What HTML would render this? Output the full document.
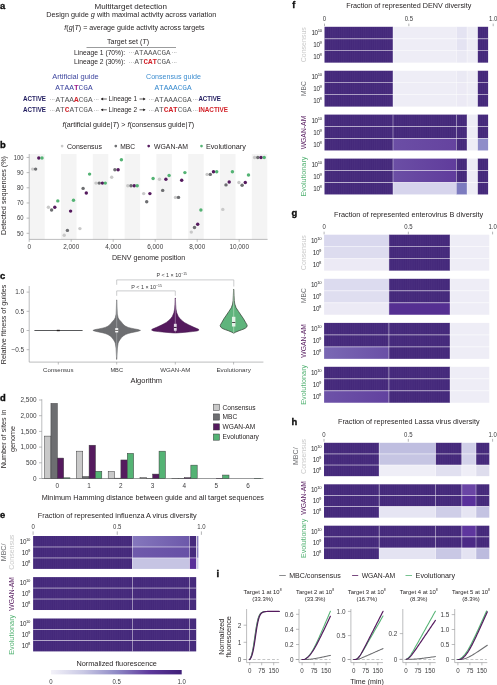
<!DOCTYPE html>
<html lang="en"><head><meta charset="utf-8"><title>Multitarget detection figure</title>
<style>html,body{margin:0;padding:0;background:#fff}body{width:497px;height:685px;overflow:hidden}svg{display:block}text{font-family:"Liberation Sans",sans-serif}</style>
</head><body>
<svg width="497" height="685" viewBox="0 0 497 685" fill="#231f20">
<defs>
<pattern id="st" width="2.2" height="4" patternUnits="userSpaceOnUse"><rect x="0" y="0" width="1.1" height="4" fill="#ffffff" opacity="0.035"/></pattern>
<linearGradient id="e1" x1="0" x2="1" y1="0" y2="0"><stop offset="0" stop-color="#8577bd"/><stop offset="1" stop-color="#6c58aa"/></linearGradient>
<linearGradient id="e2" x1="0" x2="1" y1="0" y2="0"><stop offset="0" stop-color="#6f5aab"/><stop offset="1" stop-color="#6750a6"/></linearGradient>
<linearGradient id="f1" x1="0" x2="1" y1="0" y2="0"><stop offset="0" stop-color="#6b4ea5"/><stop offset="1" stop-color="#65439f"/></linearGradient>
<linearGradient id="f2" x1="0" x2="1" y1="0" y2="0"><stop offset="0" stop-color="#6b4ea5"/><stop offset="1" stop-color="#603c9c"/></linearGradient>
<linearGradient id="g1" x1="0" x2="1" y1="0" y2="0"><stop offset="0" stop-color="#7a68b4"/><stop offset="1" stop-color="#6a50a6"/></linearGradient>
<linearGradient id="g2" x1="0" x2="1" y1="0" y2="0"><stop offset="0" stop-color="#6d52a8"/><stop offset="1" stop-color="#62429f"/></linearGradient>
<linearGradient id="cb" x1="0" x2="1" y1="0" y2="0"><stop offset="0" stop-color="#f3f2f9"/><stop offset="0.25" stop-color="#c9c8e4"/><stop offset="0.5" stop-color="#8f8ac6"/><stop offset="0.75" stop-color="#5f3a9d"/><stop offset="1" stop-color="#3f1f78"/></linearGradient>
</defs>
<rect x="0.00" y="0.00" width="497.00" height="685.00" fill="#ffffff" />
<text x="0.00" y="8.57" font-size="9.4" fill="#0d0d0d" font-weight="bold" stroke="#0d0d0d" stroke-width="0.35">a</text>
<text x="130.80" y="9.08" font-size="7.2" text-anchor="middle" fill="#231f20" textLength="72.50" lengthAdjust="spacingAndGlyphs">Multitarget detection</text>
<text x="131.30" y="16.96" font-size="6.6" text-anchor="middle" fill="#231f20" textLength="170.00" lengthAdjust="spacingAndGlyphs">Design guide <tspan font-style="italic">g</tspan> with maximal activity across variation</text>
<text x="134.50" y="29.56" font-size="6.6" text-anchor="middle" fill="#231f20" textLength="140.30" lengthAdjust="spacingAndGlyphs"><tspan font-style="italic">f</tspan>(<tspan font-style="italic">g</tspan>|<tspan font-style="italic">T</tspan>) = average guide activity across targets</text>
<text x="128.00" y="44.16" font-size="6.6" text-anchor="middle" fill="#231f20" textLength="42.00" lengthAdjust="spacingAndGlyphs">Target set (<tspan font-style="italic">T</tspan>)</text>
<line x1="86.50" y1="47.50" x2="176.00" y2="47.50" stroke="#58595b" stroke-width="0.6" />
<text x="74.00" y="54.66" font-size="6.6" fill="#231f20" textLength="51.20" lengthAdjust="spacingAndGlyphs">Lineage 1 (70%):</text>
<text x="134.50" y="54.79" font-size="7.53" fill="#58595b" style="font-family:'Liberation Mono',monospace">ATAAACGA</text>
<text x="134.00" y="54.20" font-size="6.2" fill="#58595b" text-anchor="end" letter-spacing="-0.25">···</text>
<text x="171.36" y="54.20" font-size="6.2" fill="#58595b" letter-spacing="-0.25">···</text>
<text x="74.00" y="64.26" font-size="6.6" fill="#231f20" textLength="51.20" lengthAdjust="spacingAndGlyphs">Lineage 2 (30%):</text>
<text x="134.50" y="64.39" font-size="7.53" fill="#58595b" style="font-family:'Liberation Mono',monospace">AT<tspan fill="#d2232a" font-weight="bold">CAT</tspan>CGA</text>
<text x="134.00" y="63.80" font-size="6.2" fill="#58595b" text-anchor="end" letter-spacing="-0.25">···</text>
<text x="171.36" y="63.80" font-size="6.2" fill="#58595b" letter-spacing="-0.25">···</text>
<text x="75.50" y="79.23" font-size="6.8" text-anchor="middle" fill="#3f479f" textLength="46.50" lengthAdjust="spacingAndGlyphs">Artificial guide</text>
<text x="55.20" y="89.77" font-size="7.80" fill="#3f479f" style="font-family:'Liberation Mono',monospace">ATAA<tspan fill="#a01f8c" font-weight="bold">T</tspan>CGA</text>
<text x="173.50" y="79.23" font-size="6.8" text-anchor="middle" fill="#3e8ed0" textLength="55.00" lengthAdjust="spacingAndGlyphs">Consensus guide</text>
<text x="154.40" y="89.76" font-size="7.77" fill="#3e8ed0" style="font-family:'Liberation Mono',monospace">ATAAACGA</text>
<text x="23.10" y="101.43" font-size="6.8" fill="#1f1a5e" font-weight="bold" textLength="22.90" lengthAdjust="spacingAndGlyphs">ACTIVE</text>
<text x="55.40" y="101.56" font-size="7.77" fill="#58595b" style="font-family:'Liberation Mono',monospace">ATAA<tspan fill="#d2232a" font-weight="bold">A</tspan>CGA</text>
<text x="54.90" y="100.90" font-size="6.2" fill="#58595b" text-anchor="end" letter-spacing="-0.25">···</text>
<text x="93.38" y="100.90" font-size="6.2" fill="#58595b" letter-spacing="-0.25">···</text>
<text x="122.80" y="101.36" font-size="6.6" text-anchor="middle" fill="#231f20" textLength="28.50" lengthAdjust="spacingAndGlyphs">Lineage 1</text>
<line x1="106.80" y1="99.00" x2="101.20" y2="99.00" stroke="#231f20" stroke-width="0.7" />
<path d="M100.80 99.00 L103.10 97.60 L103.10 100.40 Z" fill="#231f20"/>
<line x1="139.50" y1="99.00" x2="145.10" y2="99.00" stroke="#231f20" stroke-width="0.7" />
<path d="M145.50 99.00 L143.20 97.60 L143.20 100.40 Z" fill="#231f20"/>
<text x="154.40" y="101.56" font-size="7.77" fill="#58595b" style="font-family:'Liberation Mono',monospace">ATAAACGA</text>
<text x="153.90" y="100.90" font-size="6.2" fill="#58595b" text-anchor="end" letter-spacing="-0.25">···</text>
<text x="192.38" y="100.90" font-size="6.2" fill="#58595b" letter-spacing="-0.25">···</text>
<text x="198.40" y="101.43" font-size="6.8" fill="#1f1a5e" font-weight="bold" textLength="22.60" lengthAdjust="spacingAndGlyphs">ACTIVE</text>
<text x="23.10" y="112.23" font-size="6.8" fill="#1f1a5e" font-weight="bold" textLength="22.90" lengthAdjust="spacingAndGlyphs">ACTIVE</text>
<text x="55.40" y="112.36" font-size="7.77" fill="#58595b" style="font-family:'Liberation Mono',monospace">AT<tspan fill="#d2232a" font-weight="bold">C</tspan>ATCGA</text>
<text x="54.90" y="111.70" font-size="6.2" fill="#58595b" text-anchor="end" letter-spacing="-0.25">···</text>
<text x="93.38" y="111.70" font-size="6.2" fill="#58595b" letter-spacing="-0.25">···</text>
<text x="122.80" y="112.16" font-size="6.6" text-anchor="middle" fill="#231f20" textLength="28.50" lengthAdjust="spacingAndGlyphs">Lineage 2</text>
<line x1="106.80" y1="109.80" x2="101.20" y2="109.80" stroke="#231f20" stroke-width="0.7" />
<path d="M100.80 109.80 L103.10 108.40 L103.10 111.20 Z" fill="#231f20"/>
<line x1="139.50" y1="109.80" x2="145.10" y2="109.80" stroke="#231f20" stroke-width="0.7" />
<path d="M145.50 109.80 L143.20 108.40 L143.20 111.20 Z" fill="#231f20"/>
<text x="154.40" y="112.36" font-size="7.77" fill="#58595b" style="font-family:'Liberation Mono',monospace">AT<tspan fill="#d2232a" font-weight="bold">CAT</tspan>CGA</text>
<text x="153.90" y="111.70" font-size="6.2" fill="#58595b" text-anchor="end" letter-spacing="-0.25">···</text>
<text x="192.38" y="111.70" font-size="6.2" fill="#58595b" letter-spacing="-0.25">···</text>
<text x="198.40" y="112.23" font-size="6.8" fill="#d2232a" font-weight="bold" textLength="29.60" lengthAdjust="spacingAndGlyphs">INACTIVE</text>
<text x="128.30" y="127.26" font-size="6.6" text-anchor="middle" fill="#231f20" textLength="131.80" lengthAdjust="spacingAndGlyphs"><tspan font-style="italic">f</tspan>(artificial guide|<tspan font-style="italic">T</tspan>) &gt; <tspan font-style="italic">f</tspan>(consensus guide|<tspan font-style="italic">T</tspan>)</text>
<text x="0.00" y="147.97" font-size="9.4" fill="#0d0d0d" font-weight="bold" stroke="#0d0d0d" stroke-width="0.35">b</text>
<circle cx="62.1" cy="146.1" r="1.35" fill="#c9c9c9"/>
<text x="67.00" y="148.56" font-size="6.6" fill="#231f20" textLength="35.00" lengthAdjust="spacingAndGlyphs">Consensus</text>
<circle cx="115.8" cy="146.1" r="1.35" fill="#6d6e71"/>
<text x="120.20" y="148.56" font-size="6.6" fill="#231f20" textLength="14.80" lengthAdjust="spacingAndGlyphs">MBC</text>
<circle cx="148.7" cy="146.1" r="1.35" fill="#551a5e"/>
<text x="154.00" y="148.56" font-size="6.6" fill="#231f20" textLength="34.00" lengthAdjust="spacingAndGlyphs">WGAN-AM</text>
<circle cx="201.5" cy="146.1" r="1.35" fill="#54b374"/>
<text x="205.90" y="148.56" font-size="6.6" fill="#231f20" textLength="40.00" lengthAdjust="spacingAndGlyphs">Evolutionary</text>
<rect x="29.20" y="154.00" width="15.50" height="85.40" fill="#f4f4f4" />
<rect x="61.00" y="154.00" width="15.50" height="85.40" fill="#f4f4f4" />
<rect x="92.80" y="154.00" width="15.50" height="85.40" fill="#f4f4f4" />
<rect x="124.60" y="154.00" width="15.50" height="85.40" fill="#f4f4f4" />
<rect x="156.40" y="154.00" width="15.50" height="85.40" fill="#f4f4f4" />
<rect x="188.20" y="154.00" width="15.50" height="85.40" fill="#f4f4f4" />
<rect x="220.00" y="154.00" width="15.50" height="85.40" fill="#f4f4f4" />
<rect x="251.80" y="154.00" width="15.50" height="85.40" fill="#f4f4f4" />
<line x1="29.20" y1="154.00" x2="29.20" y2="239.40" stroke="#8e9092" stroke-width="0.6" />
<line x1="26.60" y1="233.30" x2="29.20" y2="233.30" stroke="#8e9092" stroke-width="0.6" />
<text x="23.60" y="235.59" font-size="6.4" text-anchor="end" fill="#3a3a3c" transform="translate(23.60 0) scale(0.92 1) translate(-23.60 0)">50</text>
<line x1="26.60" y1="218.13" x2="29.20" y2="218.13" stroke="#8e9092" stroke-width="0.6" />
<text x="23.60" y="220.42" font-size="6.4" text-anchor="end" fill="#3a3a3c" transform="translate(23.60 0) scale(0.92 1) translate(-23.60 0)">60</text>
<line x1="26.60" y1="202.96" x2="29.20" y2="202.96" stroke="#8e9092" stroke-width="0.6" />
<text x="23.60" y="205.25" font-size="6.4" text-anchor="end" fill="#3a3a3c" transform="translate(23.60 0) scale(0.92 1) translate(-23.60 0)">70</text>
<line x1="26.60" y1="187.79" x2="29.20" y2="187.79" stroke="#8e9092" stroke-width="0.6" />
<text x="23.60" y="190.08" font-size="6.4" text-anchor="end" fill="#3a3a3c" transform="translate(23.60 0) scale(0.92 1) translate(-23.60 0)">80</text>
<line x1="26.60" y1="172.62" x2="29.20" y2="172.62" stroke="#8e9092" stroke-width="0.6" />
<text x="23.60" y="174.91" font-size="6.4" text-anchor="end" fill="#3a3a3c" transform="translate(23.60 0) scale(0.92 1) translate(-23.60 0)">90</text>
<line x1="26.60" y1="157.45" x2="29.20" y2="157.45" stroke="#8e9092" stroke-width="0.6" />
<text x="23.60" y="159.74" font-size="6.4" text-anchor="end" fill="#3a3a3c" transform="translate(23.60 0) scale(0.92 1) translate(-23.60 0)">100</text>
<text transform="translate(4.00 195.50) rotate(-90)" x="0" y="2.36" font-size="6.6" text-anchor="middle" fill="#231f20" textLength="79.00" lengthAdjust="spacingAndGlyphs">Detected sequences (%)</text>
<line x1="29.20" y1="239.40" x2="267.60" y2="239.40" stroke="#8e9092" stroke-width="0.6" />
<line x1="29.20" y1="239.40" x2="29.20" y2="241.80" stroke="#8e9092" stroke-width="0.6" />
<line x1="71.20" y1="239.40" x2="71.20" y2="241.80" stroke="#8e9092" stroke-width="0.6" />
<line x1="113.20" y1="239.40" x2="113.20" y2="241.80" stroke="#8e9092" stroke-width="0.6" />
<line x1="155.20" y1="239.40" x2="155.20" y2="241.80" stroke="#8e9092" stroke-width="0.6" />
<line x1="197.20" y1="239.40" x2="197.20" y2="241.80" stroke="#8e9092" stroke-width="0.6" />
<line x1="239.20" y1="239.40" x2="239.20" y2="241.80" stroke="#8e9092" stroke-width="0.6" />
<text x="29.20" y="248.69" font-size="6.4" text-anchor="middle" fill="#3a3a3c">0</text>
<text x="71.20" y="248.69" font-size="6.4" text-anchor="middle" fill="#3a3a3c">2,000</text>
<text x="113.20" y="248.69" font-size="6.4" text-anchor="middle" fill="#3a3a3c">4,000</text>
<text x="155.20" y="248.69" font-size="6.4" text-anchor="middle" fill="#3a3a3c">6,000</text>
<text x="197.20" y="248.69" font-size="6.4" text-anchor="middle" fill="#3a3a3c">8,000</text>
<text x="239.20" y="248.69" font-size="6.4" text-anchor="middle" fill="#3a3a3c">10,000</text>
<text x="148.60" y="260.16" font-size="6.6" text-anchor="middle" fill="#231f20" textLength="73.20" lengthAdjust="spacingAndGlyphs">DENV genome position</text>
<circle cx="32.7" cy="169.1" r="1.72" fill="#c9c9c9"/>
<circle cx="35.6" cy="169.1" r="1.72" fill="#6d6e71"/>
<circle cx="38.8" cy="158" r="1.72" fill="#551a5e"/>
<circle cx="42" cy="158" r="1.72" fill="#54b374"/>
<circle cx="48.4" cy="207.3" r="1.72" fill="#c9c9c9"/>
<circle cx="51.6" cy="210" r="1.72" fill="#6d6e71"/>
<circle cx="54.8" cy="207.3" r="1.72" fill="#551a5e"/>
<circle cx="57.8" cy="200.9" r="1.72" fill="#54b374"/>
<circle cx="64.2" cy="235.3" r="1.72" fill="#c9c9c9"/>
<circle cx="67.4" cy="230.4" r="1.72" fill="#6d6e71"/>
<circle cx="70.6" cy="211.1" r="1.72" fill="#551a5e"/>
<circle cx="73.5" cy="200.3" r="1.72" fill="#54b374"/>
<circle cx="79.9" cy="228.6" r="1.72" fill="#c9c9c9"/>
<circle cx="83.1" cy="188.4" r="1.72" fill="#6d6e71"/>
<circle cx="86.3" cy="193" r="1.72" fill="#551a5e"/>
<circle cx="89.6" cy="174.1" r="1.72" fill="#54b374"/>
<circle cx="96" cy="183.1" r="1.72" fill="#c9c9c9"/>
<circle cx="99.2" cy="183.1" r="1.72" fill="#6d6e71"/>
<circle cx="102.4" cy="183.1" r="1.72" fill="#551a5e"/>
<circle cx="105.3" cy="183.1" r="1.72" fill="#54b374"/>
<circle cx="111.7" cy="177.3" r="1.72" fill="#c9c9c9"/>
<circle cx="114.9" cy="169.7" r="1.72" fill="#6d6e71"/>
<circle cx="118.1" cy="169.7" r="1.72" fill="#551a5e"/>
<circle cx="121.4" cy="159.8" r="1.72" fill="#54b374"/>
<circle cx="127.8" cy="185.8" r="1.72" fill="#c9c9c9"/>
<circle cx="131" cy="185.8" r="1.72" fill="#6d6e71"/>
<circle cx="134.2" cy="185.8" r="1.72" fill="#551a5e"/>
<circle cx="137.2" cy="185.8" r="1.72" fill="#54b374"/>
<circle cx="143.7" cy="193.6" r="1.72" fill="#c9c9c9"/>
<circle cx="146.7" cy="201.8" r="1.72" fill="#6d6e71"/>
<circle cx="149.9" cy="193.6" r="1.72" fill="#551a5e"/>
<circle cx="153.1" cy="178.5" r="1.72" fill="#54b374"/>
<circle cx="159.5" cy="179.3" r="1.72" fill="#c9c9c9"/>
<circle cx="162.7" cy="190.4" r="1.72" fill="#6d6e71"/>
<circle cx="165.9" cy="179.3" r="1.72" fill="#551a5e"/>
<circle cx="169.1" cy="175.5" r="1.72" fill="#54b374"/>
<circle cx="175.5" cy="197.4" r="1.72" fill="#c9c9c9"/>
<circle cx="178.5" cy="197.4" r="1.72" fill="#6d6e71"/>
<circle cx="181.7" cy="180.2" r="1.72" fill="#551a5e"/>
<circle cx="184.9" cy="172.6" r="1.72" fill="#54b374"/>
<circle cx="191.3" cy="232.1" r="1.72" fill="#c9c9c9"/>
<circle cx="194.5" cy="227.5" r="1.72" fill="#6d6e71"/>
<circle cx="197.7" cy="224.3" r="1.72" fill="#551a5e"/>
<circle cx="200.9" cy="210" r="1.72" fill="#54b374"/>
<circle cx="207.1" cy="174.4" r="1.72" fill="#c9c9c9"/>
<circle cx="210.3" cy="174.4" r="1.72" fill="#6d6e71"/>
<circle cx="213.5" cy="171.8" r="1.72" fill="#551a5e"/>
<circle cx="216.7" cy="171.8" r="1.72" fill="#54b374"/>
<circle cx="222.8" cy="209.4" r="1.72" fill="#c9c9c9"/>
<circle cx="226" cy="184.9" r="1.72" fill="#6d6e71"/>
<circle cx="229.2" cy="182" r="1.72" fill="#551a5e"/>
<circle cx="232.4" cy="171.8" r="1.72" fill="#54b374"/>
<circle cx="238.9" cy="182.5" r="1.72" fill="#c9c9c9"/>
<circle cx="242.1" cy="185.2" r="1.72" fill="#6d6e71"/>
<circle cx="245.3" cy="182.5" r="1.72" fill="#551a5e"/>
<circle cx="248.5" cy="175" r="1.72" fill="#54b374"/>
<circle cx="254.6" cy="157.5" r="1.72" fill="#c9c9c9"/>
<circle cx="257.8" cy="157.5" r="1.72" fill="#6d6e71"/>
<circle cx="261" cy="157.5" r="1.72" fill="#551a5e"/>
<circle cx="264.2" cy="157.5" r="1.72" fill="#54b374"/>
<text x="0.00" y="279.17" font-size="9.4" fill="#0d0d0d" font-weight="bold" stroke="#0d0d0d" stroke-width="0.35">c</text>
<line x1="29.20" y1="286.00" x2="29.20" y2="362.10" stroke="#8e9092" stroke-width="0.6" />
<line x1="29.20" y1="362.10" x2="263.40" y2="362.10" stroke="#8e9092" stroke-width="0.6" />
<line x1="26.60" y1="292.10" x2="29.20" y2="292.10" stroke="#8e9092" stroke-width="0.6" />
<text x="24.10" y="294.39" font-size="6.4" text-anchor="end" fill="#3a3a3c">1.0</text>
<line x1="26.60" y1="311.30" x2="29.20" y2="311.30" stroke="#8e9092" stroke-width="0.6" />
<text x="24.10" y="313.59" font-size="6.4" text-anchor="end" fill="#3a3a3c">0.5</text>
<line x1="26.60" y1="330.50" x2="29.20" y2="330.50" stroke="#8e9092" stroke-width="0.6" />
<text x="24.10" y="332.79" font-size="6.4" text-anchor="end" fill="#3a3a3c">0</text>
<line x1="26.60" y1="349.70" x2="29.20" y2="349.70" stroke="#8e9092" stroke-width="0.6" />
<text x="24.10" y="351.99" font-size="6.4" text-anchor="end" fill="#3a3a3c">−0.5</text>
<text transform="translate(4.00 324.40) rotate(-90)" x="0" y="2.36" font-size="6.6" text-anchor="middle" fill="#231f20" textLength="79.50" lengthAdjust="spacingAndGlyphs">Relative fitness of guides</text>
<line x1="58.30" y1="362.10" x2="58.30" y2="364.50" stroke="#8e9092" stroke-width="0.6" />
<text x="58.30" y="372.32" font-size="6.2" text-anchor="middle" fill="#3a3a3c" textLength="30.40" lengthAdjust="spacingAndGlyphs">Consensus</text>
<line x1="116.70" y1="362.10" x2="116.70" y2="364.50" stroke="#8e9092" stroke-width="0.6" />
<text x="116.70" y="372.32" font-size="6.2" text-anchor="middle" fill="#3a3a3c" textLength="12.60" lengthAdjust="spacingAndGlyphs">MBC</text>
<line x1="175.30" y1="362.10" x2="175.30" y2="364.50" stroke="#8e9092" stroke-width="0.6" />
<text x="175.30" y="372.32" font-size="6.2" text-anchor="middle" fill="#3a3a3c" textLength="30.20" lengthAdjust="spacingAndGlyphs">WGAN-AM</text>
<line x1="233.60" y1="362.10" x2="233.60" y2="364.50" stroke="#8e9092" stroke-width="0.6" />
<text x="233.60" y="372.32" font-size="6.2" text-anchor="middle" fill="#3a3a3c" textLength="34.40" lengthAdjust="spacingAndGlyphs">Evolutionary</text>
<text x="146.30" y="383.46" font-size="6.6" text-anchor="middle" fill="#231f20" textLength="31.70" lengthAdjust="spacingAndGlyphs">Algorithm</text>
<path d="M116.7 284.8 V279.9 H233.8 V286.5" fill="none" stroke="#a7a9ac" stroke-width="0.6"/>
<path d="M116.7 295.8 V290.9 H175.3 V295.8" fill="none" stroke="#a7a9ac" stroke-width="0.6"/>
<text x="171.70" y="277.34" font-size="5.7" text-anchor="middle" fill="#3a3a3c" textLength="30.60" lengthAdjust="spacingAndGlyphs">P &lt; 1 × 10<tspan font-size="3.6" dy="-2.2">−15</tspan></text>
<text x="146.60" y="289.24" font-size="5.7" text-anchor="middle" fill="#3a3a3c" textLength="30.60" lengthAdjust="spacingAndGlyphs">P &lt; 1 × 10<tspan font-size="3.6" dy="-2.2">−15</tspan></text>
<line x1="34.40" y1="330.50" x2="82.60" y2="330.50" stroke="#58595b" stroke-width="1.2" />
<rect x="56.80" y="329.80" width="3.00" height="1.40" fill="#231f20" />
<path d="M116.82 299.90 L117.06 308.10 L117.32 314.10 L118.15 317.80 L119.30 319.80 L120.90 321.40 L122.30 323.20 L123.90 325.00 L125.70 326.30 L128.20 327.40 L131.20 328.20 L134.80 328.90 L138.30 329.60 L140.50 330.40 L138.30 331.20 L134.80 332.00 L131.20 332.70 L128.20 333.50 L125.50 334.60 L123.30 335.90 L121.50 337.60 L120.10 339.50 L119.00 341.20 L118.15 343.10 L117.40 348.00 L117.06 354.00 L116.82 359.40 L116.58 359.40 L116.34 354.00 L116.00 348.00 L115.25 343.10 L114.40 341.20 L113.30 339.50 L111.90 337.60 L110.10 335.90 L107.90 334.60 L105.20 333.50 L102.20 332.70 L98.60 332.00 L95.10 331.20 L92.90 330.40 L95.10 329.60 L98.60 328.90 L102.20 328.20 L105.20 327.40 L107.70 326.30 L109.50 325.00 L111.10 323.20 L112.50 321.40 L114.10 319.80 L115.25 317.80 L116.08 314.10 L116.34 308.10 L116.58 299.90Z" fill="#6d6e71" stroke="#58595b" stroke-width="0.5" stroke-linejoin="round"/>
<line x1="116.70" y1="300.50" x2="116.70" y2="357.50" stroke="#bcbec0" stroke-width="0.5" />
<rect x="115.20" y="328.20" width="3.00" height="4.20" fill="#ffffff" />
<line x1="115.20" y1="330.40" x2="118.20" y2="330.40" stroke="#231f20" stroke-width="0.7" />
<path d="M175.42 298.00 L175.66 304.30 L176.02 309.10 L176.75 312.80 L178.30 316.40 L179.70 318.30 L181.30 320.00 L184.30 322.40 L188.60 324.80 L194.00 327.30 L198.20 329.10 L199.10 329.90 L197.30 330.90 L192.30 331.60 L186.30 332.20 L180.30 332.70 L175.90 333.00 L174.70 333.00 L170.30 332.70 L164.30 332.20 L158.30 331.60 L153.30 330.90 L151.50 329.90 L152.40 329.10 L156.60 327.30 L162.00 324.80 L166.30 322.40 L169.30 320.00 L170.90 318.30 L172.30 316.40 L173.85 312.80 L174.58 309.10 L174.94 304.30 L175.18 298.00Z" fill="#551a5e" stroke="#3d1045" stroke-width="0.5" stroke-linejoin="round"/>
<line x1="175.30" y1="299.00" x2="175.30" y2="332.50" stroke="#c9b8cf" stroke-width="0.5" />
<rect x="173.90" y="323.80" width="2.80" height="6.90" fill="#e4dde8" />
<line x1="173.90" y1="327.40" x2="176.70" y2="327.40" stroke="#2a0d30" stroke-width="1.0" />
<path d="M233.82 289.40 L234.06 295.70 L234.30 300.50 L234.80 304.10 L236.10 307.80 L238.50 311.40 L240.90 315.00 L243.40 318.60 L245.50 322.30 L246.90 324.70 L247.20 325.60 L246.70 327.10 L245.30 328.20 L244.00 328.90 L241.70 329.80 L239.10 330.70 L235.50 332.20 L233.95 333.10 L233.45 333.10 L231.90 332.20 L228.30 330.70 L225.70 329.80 L223.40 328.90 L222.10 328.20 L220.70 327.10 L220.20 325.60 L220.50 324.70 L221.90 322.30 L224.00 318.60 L226.50 315.00 L228.90 311.40 L231.30 307.80 L232.60 304.10 L233.10 300.50 L233.34 295.70 L233.58 289.40Z" fill="#5fb47c" stroke="#30382f" stroke-width="0.7" stroke-linejoin="round"/>
<line x1="233.70" y1="290.00" x2="233.70" y2="333.00" stroke="#d4ecd9" stroke-width="0.5" />
<rect x="232.00" y="316.80" width="3.40" height="9.70" fill="#e3f2e7" />
<line x1="232.10" y1="322.50" x2="235.30" y2="322.50" stroke="#231f20" stroke-width="0.8" />
<text x="0.00" y="401.07" font-size="9.4" fill="#0d0d0d" font-weight="bold" stroke="#0d0d0d" stroke-width="0.35">d</text>
<line x1="41.80" y1="399.20" x2="41.80" y2="478.50" stroke="#8e9092" stroke-width="0.6" />
<line x1="39.00" y1="400.00" x2="41.80" y2="400.00" stroke="#8e9092" stroke-width="0.6" />
<text x="36.60" y="402.29" font-size="6.4" text-anchor="end" fill="#3a3a3c" textLength="16.10" lengthAdjust="spacingAndGlyphs">2,500</text>
<line x1="39.00" y1="415.70" x2="41.80" y2="415.70" stroke="#8e9092" stroke-width="0.6" />
<text x="36.60" y="417.99" font-size="6.4" text-anchor="end" fill="#3a3a3c" textLength="16.10" lengthAdjust="spacingAndGlyphs">2,000</text>
<line x1="39.00" y1="431.40" x2="41.80" y2="431.40" stroke="#8e9092" stroke-width="0.6" />
<text x="36.60" y="433.69" font-size="6.4" text-anchor="end" fill="#3a3a3c" textLength="16.10" lengthAdjust="spacingAndGlyphs">1,500</text>
<line x1="39.00" y1="447.10" x2="41.80" y2="447.10" stroke="#8e9092" stroke-width="0.6" />
<text x="36.60" y="449.39" font-size="6.4" text-anchor="end" fill="#3a3a3c" textLength="16.10" lengthAdjust="spacingAndGlyphs">1,000</text>
<line x1="39.00" y1="462.80" x2="41.80" y2="462.80" stroke="#8e9092" stroke-width="0.6" />
<text x="36.60" y="465.09" font-size="6.4" text-anchor="end" fill="#3a3a3c">500</text>
<line x1="39.00" y1="478.50" x2="41.80" y2="478.50" stroke="#8e9092" stroke-width="0.6" />
<text x="36.60" y="480.79" font-size="6.4" text-anchor="end" fill="#3a3a3c">0</text>
<text transform="translate(3.40 439.00) rotate(-90)" x="0" y="2.36" font-size="6.6" text-anchor="middle" fill="#231f20" textLength="58.50" lengthAdjust="spacingAndGlyphs">Number of sites in</text>
<text transform="translate(12.40 439.00) rotate(-90)" x="0" y="2.36" font-size="6.6" text-anchor="middle" fill="#231f20" textLength="26.00" lengthAdjust="spacingAndGlyphs">genome</text>
<line x1="41.80" y1="478.50" x2="263.40" y2="478.50" stroke="#58595b" stroke-width="0.6" />
<rect x="44.60" y="436.11" width="6.35" height="42.39" fill="#c9c9c9" stroke="#3a3a3c" stroke-width="0.5" />
<rect x="50.95" y="403.45" width="6.35" height="75.05" fill="#6d6e71" stroke="#3a3a3c" stroke-width="0.5" />
<rect x="57.30" y="458.09" width="6.35" height="20.41" fill="#551a5e" stroke="#3a3a3c" stroke-width="0.5" />
<rect x="63.65" y="477.81" width="6.35" height="0.69" fill="#54b374" stroke="#3a3a3c" stroke-width="0.5" />
<rect x="76.40" y="451.18" width="6.35" height="27.32" fill="#c9c9c9" stroke="#3a3a3c" stroke-width="0.5" />
<rect x="82.75" y="476.62" width="6.35" height="1.88" fill="#6d6e71" stroke="#3a3a3c" stroke-width="0.5" />
<rect x="89.10" y="445.22" width="6.35" height="33.28" fill="#551a5e" stroke="#3a3a3c" stroke-width="0.5" />
<rect x="95.45" y="471.28" width="6.35" height="7.22" fill="#54b374" stroke="#3a3a3c" stroke-width="0.5" />
<rect x="108.20" y="471.59" width="6.35" height="6.91" fill="#c9c9c9" stroke="#3a3a3c" stroke-width="0.5" />
<rect x="114.55" y="478.19" width="6.35" height="0.31" fill="#6d6e71" stroke="#3a3a3c" stroke-width="0.5" />
<rect x="120.90" y="459.97" width="6.35" height="18.53" fill="#551a5e" stroke="#3a3a3c" stroke-width="0.5" />
<rect x="127.25" y="453.38" width="6.35" height="25.12" fill="#54b374" stroke="#3a3a3c" stroke-width="0.5" />
<rect x="140.00" y="477.56" width="6.35" height="0.94" fill="#c9c9c9" stroke="#3a3a3c" stroke-width="0.5" />
<rect x="146.35" y="478.37" width="6.35" height="0.13" fill="#6d6e71" stroke="#3a3a3c" stroke-width="0.5" />
<rect x="152.70" y="474.10" width="6.35" height="4.40" fill="#551a5e" stroke="#3a3a3c" stroke-width="0.5" />
<rect x="159.05" y="451.18" width="6.35" height="27.32" fill="#54b374" stroke="#3a3a3c" stroke-width="0.5" />
<rect x="171.80" y="478.37" width="6.35" height="0.13" fill="#c9c9c9" stroke="#3a3a3c" stroke-width="0.5" />
<rect x="178.15" y="478.37" width="6.35" height="0.13" fill="#6d6e71" stroke="#3a3a3c" stroke-width="0.5" />
<rect x="184.50" y="477.71" width="6.35" height="0.78" fill="#551a5e" stroke="#3a3a3c" stroke-width="0.5" />
<rect x="190.85" y="465.15" width="6.35" height="13.34" fill="#54b374" stroke="#3a3a3c" stroke-width="0.5" />
<rect x="216.30" y="478.31" width="6.35" height="0.19" fill="#551a5e" stroke="#3a3a3c" stroke-width="0.5" />
<rect x="222.65" y="475.05" width="6.35" height="3.45" fill="#54b374" stroke="#3a3a3c" stroke-width="0.5" />
<rect x="254.45" y="478.31" width="6.35" height="0.19" fill="#54b374" stroke="#3a3a3c" stroke-width="0.5" />
<text x="57.20" y="488.39" font-size="6.4" text-anchor="middle" fill="#3a3a3c">0</text>
<text x="89.00" y="488.39" font-size="6.4" text-anchor="middle" fill="#3a3a3c">1</text>
<text x="120.80" y="488.39" font-size="6.4" text-anchor="middle" fill="#3a3a3c">2</text>
<text x="152.60" y="488.39" font-size="6.4" text-anchor="middle" fill="#3a3a3c">3</text>
<text x="184.40" y="488.39" font-size="6.4" text-anchor="middle" fill="#3a3a3c">4</text>
<text x="216.20" y="488.39" font-size="6.4" text-anchor="middle" fill="#3a3a3c">5</text>
<text x="248.00" y="488.39" font-size="6.4" text-anchor="middle" fill="#3a3a3c">6</text>
<text x="152.80" y="500.06" font-size="6.6" text-anchor="middle" fill="#231f20" textLength="222.20" lengthAdjust="spacingAndGlyphs">Minimum Hamming distance between guide and all target sequences</text>
<rect x="213.30" y="404.20" width="6.20" height="6.20" fill="#c9c9c9" stroke="#3a3a3c" stroke-width="0.5" />
<text x="222.60" y="409.66" font-size="6.6" fill="#231f20">Consensus</text>
<rect x="213.30" y="413.90" width="6.20" height="6.20" fill="#6d6e71" stroke="#3a3a3c" stroke-width="0.5" />
<text x="222.60" y="419.36" font-size="6.6" fill="#231f20">MBC</text>
<rect x="213.30" y="423.80" width="6.20" height="6.20" fill="#551a5e" stroke="#3a3a3c" stroke-width="0.5" />
<text x="222.60" y="429.26" font-size="6.6" fill="#231f20">WGAN-AM</text>
<rect x="213.30" y="434.00" width="6.20" height="6.20" fill="#54b374" stroke="#3a3a3c" stroke-width="0.5" />
<text x="222.60" y="439.46" font-size="6.6" fill="#231f20">Evolutionary</text>
<text x="0.00" y="517.67" font-size="9.4" fill="#0d0d0d" font-weight="bold" stroke="#0d0d0d" stroke-width="0.35">e</text>
<text x="117.30" y="517.67" font-size="6.9" text-anchor="middle" fill="#231f20" textLength="158.90" lengthAdjust="spacingAndGlyphs">Fraction of represented influenza A virus diversity</text>
<line x1="33.10" y1="531.40" x2="33.10" y2="534.80" stroke="#808285" stroke-width="0.6" />
<text x="33.10" y="528.89" font-size="6.4" text-anchor="middle" fill="#3a3a3c" transform="translate(33.10 0) scale(0.94 1) translate(-33.10 0)">0</text>
<line x1="117.25" y1="531.40" x2="117.25" y2="534.80" stroke="#808285" stroke-width="0.6" />
<text x="117.25" y="528.89" font-size="6.4" text-anchor="middle" fill="#3a3a3c" transform="translate(117.25 0) scale(0.94 1) translate(-117.25 0)">0.5</text>
<line x1="201.40" y1="531.40" x2="201.40" y2="534.80" stroke="#808285" stroke-width="0.6" />
<text x="201.40" y="528.89" font-size="6.4" text-anchor="middle" fill="#3a3a3c" transform="translate(201.40 0) scale(0.94 1) translate(-201.40 0)">1.0</text>
<rect x="33.10" y="536.00" width="99.20" height="10.97" fill="#43277a" />
<rect x="33.10" y="536.00" width="99.20" height="10.97" fill="url(#st)" />
<rect x="132.30" y="536.00" width="57.40" height="10.97" fill="url(#e1)" />
<rect x="189.70" y="536.00" width="6.50" height="10.97" fill="#43277a" />
<rect x="189.70" y="536.00" width="6.50" height="10.97" fill="url(#st)" />
<rect x="33.10" y="546.97" width="99.20" height="10.97" fill="#43277a" />
<rect x="33.10" y="546.97" width="99.20" height="10.97" fill="url(#st)" />
<rect x="132.30" y="546.97" width="57.40" height="10.97" fill="url(#e2)" />
<rect x="189.70" y="546.97" width="6.50" height="10.97" fill="#43277a" />
<rect x="189.70" y="546.97" width="6.50" height="10.97" fill="url(#st)" />
<rect x="33.10" y="557.94" width="99.20" height="10.97" fill="#43277a" />
<rect x="33.10" y="557.94" width="99.20" height="10.97" fill="url(#st)" />
<rect x="132.30" y="557.94" width="57.40" height="10.97" fill="#c6c4e3" />
<rect x="189.70" y="557.94" width="6.50" height="10.97" fill="#5a2f99" />
<line x1="33.10" y1="546.97" x2="196.20" y2="546.97" stroke="#ffffff" stroke-width="0.6" opacity="0.85"/>
<line x1="33.10" y1="557.94" x2="196.20" y2="557.94" stroke="#ffffff" stroke-width="0.6" opacity="0.85"/>
<line x1="132.30" y1="536.00" x2="132.30" y2="568.91" stroke="#ffffff" stroke-width="0.5" opacity="0.8"/>
<line x1="189.70" y1="536.00" x2="189.70" y2="568.91" stroke="#ffffff" stroke-width="0.5" opacity="0.8"/>
<rect x="197.00" y="536.00" width="1.40" height="21.94" fill="#8f84c4" />
<rect x="197.00" y="557.94" width="1.40" height="10.97" fill="#cfcde8" />
<line x1="197.10" y1="546.97" x2="198.60" y2="546.97" stroke="#fff" stroke-width="0.55" opacity="0.7"/>
<line x1="197.10" y1="557.94" x2="198.60" y2="557.94" stroke="#fff" stroke-width="0.55" opacity="0.7"/>
<rect x="33.10" y="577.10" width="99.20" height="10.97" fill="#43277a" />
<rect x="33.10" y="577.10" width="99.20" height="10.97" fill="url(#st)" />
<rect x="132.30" y="577.10" width="57.40" height="10.97" fill="#43277a" />
<rect x="132.30" y="577.10" width="57.40" height="10.97" fill="url(#st)" />
<rect x="189.70" y="577.10" width="6.50" height="10.97" fill="#43277a" />
<rect x="189.70" y="577.10" width="6.50" height="10.97" fill="url(#st)" />
<rect x="33.10" y="588.07" width="99.20" height="10.97" fill="#43277a" />
<rect x="33.10" y="588.07" width="99.20" height="10.97" fill="url(#st)" />
<rect x="132.30" y="588.07" width="57.40" height="10.97" fill="#43277a" />
<rect x="132.30" y="588.07" width="57.40" height="10.97" fill="url(#st)" />
<rect x="189.70" y="588.07" width="6.50" height="10.97" fill="#43277a" />
<rect x="189.70" y="588.07" width="6.50" height="10.97" fill="url(#st)" />
<rect x="33.10" y="599.04" width="99.20" height="10.97" fill="#43277a" />
<rect x="33.10" y="599.04" width="99.20" height="10.97" fill="url(#st)" />
<rect x="132.30" y="599.04" width="57.40" height="10.97" fill="#43277a" />
<rect x="132.30" y="599.04" width="57.40" height="10.97" fill="url(#st)" />
<rect x="189.70" y="599.04" width="6.50" height="10.97" fill="#43277a" />
<rect x="189.70" y="599.04" width="6.50" height="10.97" fill="url(#st)" />
<line x1="33.10" y1="588.07" x2="196.20" y2="588.07" stroke="#ffffff" stroke-width="0.6" opacity="0.85"/>
<line x1="33.10" y1="599.04" x2="196.20" y2="599.04" stroke="#ffffff" stroke-width="0.6" opacity="0.85"/>
<line x1="132.30" y1="577.10" x2="132.30" y2="610.01" stroke="#ffffff" stroke-width="0.5" opacity="0.8"/>
<line x1="189.70" y1="577.10" x2="189.70" y2="610.01" stroke="#ffffff" stroke-width="0.5" opacity="0.8"/>
<rect x="33.10" y="618.50" width="99.20" height="10.97" fill="#43277a" />
<rect x="33.10" y="618.50" width="99.20" height="10.97" fill="url(#st)" />
<rect x="132.30" y="618.50" width="57.40" height="10.97" fill="#43277a" />
<rect x="132.30" y="618.50" width="57.40" height="10.97" fill="url(#st)" />
<rect x="189.70" y="618.50" width="6.50" height="10.97" fill="#43277a" />
<rect x="189.70" y="618.50" width="6.50" height="10.97" fill="url(#st)" />
<rect x="33.10" y="629.47" width="99.20" height="10.97" fill="#43277a" />
<rect x="33.10" y="629.47" width="99.20" height="10.97" fill="url(#st)" />
<rect x="132.30" y="629.47" width="57.40" height="10.97" fill="#43277a" />
<rect x="132.30" y="629.47" width="57.40" height="10.97" fill="url(#st)" />
<rect x="189.70" y="629.47" width="6.50" height="10.97" fill="#43277a" />
<rect x="189.70" y="629.47" width="6.50" height="10.97" fill="url(#st)" />
<rect x="33.10" y="640.44" width="99.20" height="10.97" fill="#43277a" />
<rect x="33.10" y="640.44" width="99.20" height="10.97" fill="url(#st)" />
<rect x="132.30" y="640.44" width="57.40" height="10.97" fill="#43277a" />
<rect x="132.30" y="640.44" width="57.40" height="10.97" fill="url(#st)" />
<rect x="189.70" y="640.44" width="6.50" height="10.97" fill="#43277a" />
<rect x="189.70" y="640.44" width="6.50" height="10.97" fill="url(#st)" />
<line x1="33.10" y1="629.47" x2="196.20" y2="629.47" stroke="#ffffff" stroke-width="0.6" opacity="0.85"/>
<line x1="33.10" y1="640.44" x2="196.20" y2="640.44" stroke="#ffffff" stroke-width="0.6" opacity="0.85"/>
<line x1="132.30" y1="618.50" x2="132.30" y2="651.41" stroke="#ffffff" stroke-width="0.5" opacity="0.8"/>
<line x1="189.70" y1="618.50" x2="189.70" y2="651.41" stroke="#ffffff" stroke-width="0.5" opacity="0.8"/>
<text x="26.20" y="543.74" font-size="6.3" text-anchor="end" letter-spacing="-0.3" fill="#2e2e30">10</text>
<text x="26.10" y="540.78" font-size="4.2" letter-spacing="-0.3" fill="#2e2e30">10</text>
<text x="28.10" y="554.71" font-size="6.3" text-anchor="end" letter-spacing="-0.3" fill="#2e2e30">10</text>
<text x="28.00" y="551.75" font-size="4.2" letter-spacing="-0.3" fill="#2e2e30">9</text>
<text x="28.10" y="565.67" font-size="6.3" text-anchor="end" letter-spacing="-0.3" fill="#2e2e30">10</text>
<text x="28.00" y="562.72" font-size="4.2" letter-spacing="-0.3" fill="#2e2e30">8</text>
<text x="26.20" y="584.84" font-size="6.3" text-anchor="end" letter-spacing="-0.3" fill="#2e2e30">10</text>
<text x="26.10" y="581.88" font-size="4.2" letter-spacing="-0.3" fill="#2e2e30">10</text>
<text x="28.10" y="595.81" font-size="6.3" text-anchor="end" letter-spacing="-0.3" fill="#2e2e30">10</text>
<text x="28.00" y="592.86" font-size="4.2" letter-spacing="-0.3" fill="#2e2e30">9</text>
<text x="28.10" y="606.77" font-size="6.3" text-anchor="end" letter-spacing="-0.3" fill="#2e2e30">10</text>
<text x="28.00" y="603.82" font-size="4.2" letter-spacing="-0.3" fill="#2e2e30">8</text>
<text x="26.20" y="626.24" font-size="6.3" text-anchor="end" letter-spacing="-0.3" fill="#2e2e30">10</text>
<text x="26.10" y="623.28" font-size="4.2" letter-spacing="-0.3" fill="#2e2e30">10</text>
<text x="28.10" y="637.21" font-size="6.3" text-anchor="end" letter-spacing="-0.3" fill="#2e2e30">10</text>
<text x="28.00" y="634.25" font-size="4.2" letter-spacing="-0.3" fill="#2e2e30">9</text>
<text x="28.10" y="648.17" font-size="6.3" text-anchor="end" letter-spacing="-0.3" fill="#2e2e30">10</text>
<text x="28.00" y="645.22" font-size="4.2" letter-spacing="-0.3" fill="#2e2e30">8</text>
<text transform="translate(3.90 552.40) rotate(-90)" x="0" y="2.36" font-size="6.6" text-anchor="middle" fill="#6d6e71" textLength="17.60" lengthAdjust="spacingAndGlyphs">MBC/</text>
<text transform="translate(11.80 552.20) rotate(-90)" x="0" y="2.36" font-size="6.6" text-anchor="middle" fill="#c9c9c9" textLength="35.00" lengthAdjust="spacingAndGlyphs">Consensus</text>
<text transform="translate(11.80 593.80) rotate(-90)" x="0" y="2.36" font-size="6.6" text-anchor="middle" fill="#551a5e" textLength="33.70" lengthAdjust="spacingAndGlyphs">WGAN-AM</text>
<text transform="translate(11.80 634.80) rotate(-90)" x="0" y="2.36" font-size="6.6" text-anchor="middle" fill="#54b374" textLength="40.00" lengthAdjust="spacingAndGlyphs">Evolutionary</text>
<text x="116.70" y="665.77" font-size="6.9" text-anchor="middle" fill="#231f20" textLength="80.50" lengthAdjust="spacingAndGlyphs">Normalized fluorescence</text>
<rect x="51.00" y="670.00" width="130.70" height="4.40" fill="url(#cb)" />
<text x="51.00" y="684.09" font-size="6.4" text-anchor="middle" fill="#3a3a3c" transform="translate(51.00 0) scale(0.94 1) translate(-51.00 0)">0</text>
<text x="116.70" y="684.09" font-size="6.4" text-anchor="middle" fill="#3a3a3c" transform="translate(116.70 0) scale(0.94 1) translate(-116.70 0)">0.5</text>
<text x="181.70" y="684.09" font-size="6.4" text-anchor="middle" fill="#3a3a3c" transform="translate(181.70 0) scale(0.94 1) translate(-181.70 0)">1.0</text>
<text x="292.3" y="8.2" font-size="9" font-weight="bold" fill="#0d0d0d" stroke="#0d0d0d" stroke-width="0.35">f</text>
<text x="408.80" y="8.46" font-size="6.6" text-anchor="middle" fill="#231f20" textLength="125.00" lengthAdjust="spacingAndGlyphs">Fraction of represented DENV diversity</text>
<line x1="324.50" y1="23.60" x2="324.50" y2="26.20" stroke="#808285" stroke-width="0.6" />
<text x="324.50" y="20.89" font-size="6.4" text-anchor="middle" fill="#3a3a3c" transform="translate(324.50 0) scale(0.94 1) translate(-324.50 0)">0</text>
<line x1="408.85" y1="23.60" x2="408.85" y2="26.20" stroke="#808285" stroke-width="0.6" />
<text x="408.85" y="20.89" font-size="6.4" text-anchor="middle" fill="#3a3a3c" transform="translate(408.85 0) scale(0.94 1) translate(-408.85 0)">0.5</text>
<line x1="493.20" y1="23.60" x2="493.20" y2="26.20" stroke="#808285" stroke-width="0.6" />
<text x="493.20" y="20.89" font-size="6.4" text-anchor="middle" fill="#3a3a3c" transform="translate(493.20 0) scale(0.94 1) translate(-493.20 0)">1.0</text>
<rect x="324.50" y="26.80" width="68.50" height="11.95" fill="#43277a" />
<rect x="324.50" y="26.80" width="68.50" height="11.95" fill="url(#st)" />
<rect x="393.00" y="26.80" width="63.30" height="11.95" fill="#eeedf6" />
<rect x="456.30" y="26.80" width="10.80" height="11.95" fill="#e4e3f2" />
<rect x="467.10" y="26.80" width="10.60" height="11.95" fill="#eeedf6" />
<rect x="477.70" y="26.80" width="10.40" height="11.95" fill="#43277a" />
<rect x="477.70" y="26.80" width="10.40" height="11.95" fill="url(#st)" />
<rect x="324.50" y="38.75" width="68.50" height="11.95" fill="#43277a" />
<rect x="324.50" y="38.75" width="68.50" height="11.95" fill="url(#st)" />
<rect x="393.00" y="38.75" width="63.30" height="11.95" fill="#eeedf6" />
<rect x="456.30" y="38.75" width="10.80" height="11.95" fill="#e4e3f2" />
<rect x="467.10" y="38.75" width="10.60" height="11.95" fill="#eeedf6" />
<rect x="477.70" y="38.75" width="10.40" height="11.95" fill="#43277a" />
<rect x="477.70" y="38.75" width="10.40" height="11.95" fill="url(#st)" />
<rect x="324.50" y="50.70" width="68.50" height="11.95" fill="#43277a" />
<rect x="324.50" y="50.70" width="68.50" height="11.95" fill="url(#st)" />
<rect x="393.00" y="50.70" width="63.30" height="11.95" fill="#eeedf6" />
<rect x="456.30" y="50.70" width="10.80" height="11.95" fill="#eae9f4" />
<rect x="467.10" y="50.70" width="10.60" height="11.95" fill="#eeedf6" />
<rect x="477.70" y="50.70" width="10.40" height="11.95" fill="#43277a" />
<rect x="477.70" y="50.70" width="10.40" height="11.95" fill="url(#st)" />
<line x1="324.50" y1="38.75" x2="488.10" y2="38.75" stroke="#ffffff" stroke-width="0.6" opacity="0.85"/>
<line x1="324.50" y1="50.70" x2="488.10" y2="50.70" stroke="#ffffff" stroke-width="0.6" opacity="0.85"/>
<line x1="393.00" y1="26.80" x2="393.00" y2="62.65" stroke="#ffffff" stroke-width="0.5" opacity="0.8"/>
<line x1="456.30" y1="26.80" x2="456.30" y2="62.65" stroke="#ffffff" stroke-width="0.5" opacity="0.8"/>
<line x1="467.10" y1="26.80" x2="467.10" y2="62.65" stroke="#ffffff" stroke-width="0.5" opacity="0.8"/>
<line x1="477.70" y1="26.80" x2="477.70" y2="62.65" stroke="#ffffff" stroke-width="0.5" opacity="0.8"/>
<rect x="324.50" y="70.75" width="68.50" height="11.95" fill="#43277a" />
<rect x="324.50" y="70.75" width="68.50" height="11.95" fill="url(#st)" />
<rect x="393.00" y="70.75" width="63.30" height="11.95" fill="#eeedf6" />
<rect x="456.30" y="70.75" width="10.80" height="11.95" fill="#eae9f4" />
<rect x="467.10" y="70.75" width="10.60" height="11.95" fill="#eeedf6" />
<rect x="477.70" y="70.75" width="10.40" height="11.95" fill="#43277a" />
<rect x="477.70" y="70.75" width="10.40" height="11.95" fill="url(#st)" />
<rect x="324.50" y="82.70" width="68.50" height="11.95" fill="#43277a" />
<rect x="324.50" y="82.70" width="68.50" height="11.95" fill="url(#st)" />
<rect x="393.00" y="82.70" width="63.30" height="11.95" fill="#eeedf6" />
<rect x="456.30" y="82.70" width="10.80" height="11.95" fill="#eceaf5" />
<rect x="467.10" y="82.70" width="10.60" height="11.95" fill="#eeedf6" />
<rect x="477.70" y="82.70" width="10.40" height="11.95" fill="#43277a" />
<rect x="477.70" y="82.70" width="10.40" height="11.95" fill="url(#st)" />
<rect x="324.50" y="94.65" width="68.50" height="11.95" fill="#43277a" />
<rect x="324.50" y="94.65" width="68.50" height="11.95" fill="url(#st)" />
<rect x="393.00" y="94.65" width="63.30" height="11.95" fill="#eeedf6" />
<rect x="456.30" y="94.65" width="10.80" height="11.95" fill="#eceaf5" />
<rect x="467.10" y="94.65" width="10.60" height="11.95" fill="#eeedf6" />
<rect x="477.70" y="94.65" width="10.40" height="11.95" fill="#43277a" />
<rect x="477.70" y="94.65" width="10.40" height="11.95" fill="url(#st)" />
<line x1="324.50" y1="82.70" x2="488.10" y2="82.70" stroke="#ffffff" stroke-width="0.6" opacity="0.85"/>
<line x1="324.50" y1="94.65" x2="488.10" y2="94.65" stroke="#ffffff" stroke-width="0.6" opacity="0.85"/>
<line x1="393.00" y1="70.75" x2="393.00" y2="106.60" stroke="#ffffff" stroke-width="0.5" opacity="0.8"/>
<line x1="456.30" y1="70.75" x2="456.30" y2="106.60" stroke="#ffffff" stroke-width="0.5" opacity="0.8"/>
<line x1="467.10" y1="70.75" x2="467.10" y2="106.60" stroke="#ffffff" stroke-width="0.5" opacity="0.8"/>
<line x1="477.70" y1="70.75" x2="477.70" y2="106.60" stroke="#ffffff" stroke-width="0.5" opacity="0.8"/>
<rect x="324.50" y="114.60" width="68.50" height="11.95" fill="#43277a" />
<rect x="324.50" y="114.60" width="68.50" height="11.95" fill="url(#st)" />
<rect x="393.00" y="114.60" width="63.30" height="11.95" fill="#43277a" />
<rect x="393.00" y="114.60" width="63.30" height="11.95" fill="url(#st)" />
<rect x="456.30" y="114.60" width="10.80" height="11.95" fill="#43277a" />
<rect x="456.30" y="114.60" width="10.80" height="11.95" fill="url(#st)" />
<rect x="467.10" y="114.60" width="10.60" height="11.95" fill="#eeedf6" />
<rect x="477.70" y="114.60" width="10.40" height="11.95" fill="#43277a" />
<rect x="477.70" y="114.60" width="10.40" height="11.95" fill="url(#st)" />
<rect x="324.50" y="126.55" width="68.50" height="11.95" fill="#43277a" />
<rect x="324.50" y="126.55" width="68.50" height="11.95" fill="url(#st)" />
<rect x="393.00" y="126.55" width="63.30" height="11.95" fill="#43277a" />
<rect x="393.00" y="126.55" width="63.30" height="11.95" fill="url(#st)" />
<rect x="456.30" y="126.55" width="10.80" height="11.95" fill="#43277a" />
<rect x="456.30" y="126.55" width="10.80" height="11.95" fill="url(#st)" />
<rect x="467.10" y="126.55" width="10.60" height="11.95" fill="#eeedf6" />
<rect x="477.70" y="126.55" width="10.40" height="11.95" fill="#43277a" />
<rect x="477.70" y="126.55" width="10.40" height="11.95" fill="url(#st)" />
<rect x="324.50" y="138.50" width="68.50" height="11.95" fill="#43277a" />
<rect x="324.50" y="138.50" width="68.50" height="11.95" fill="url(#st)" />
<rect x="393.00" y="138.50" width="63.30" height="11.95" fill="url(#f1)" />
<rect x="456.30" y="138.50" width="10.80" height="11.95" fill="#43277a" />
<rect x="456.30" y="138.50" width="10.80" height="11.95" fill="url(#st)" />
<rect x="467.10" y="138.50" width="10.60" height="11.95" fill="#eeedf6" />
<rect x="477.70" y="138.50" width="10.40" height="11.95" fill="#8f8dc9" />
<line x1="324.50" y1="126.55" x2="488.10" y2="126.55" stroke="#ffffff" stroke-width="0.6" opacity="0.85"/>
<line x1="324.50" y1="138.50" x2="488.10" y2="138.50" stroke="#ffffff" stroke-width="0.6" opacity="0.85"/>
<line x1="393.00" y1="114.60" x2="393.00" y2="150.45" stroke="#ffffff" stroke-width="0.5" opacity="0.8"/>
<line x1="456.30" y1="114.60" x2="456.30" y2="150.45" stroke="#ffffff" stroke-width="0.5" opacity="0.8"/>
<line x1="467.10" y1="114.60" x2="467.10" y2="150.45" stroke="#ffffff" stroke-width="0.5" opacity="0.8"/>
<line x1="477.70" y1="114.60" x2="477.70" y2="150.45" stroke="#ffffff" stroke-width="0.5" opacity="0.8"/>
<rect x="324.50" y="158.60" width="68.50" height="11.95" fill="#43277a" />
<rect x="324.50" y="158.60" width="68.50" height="11.95" fill="url(#st)" />
<rect x="393.00" y="158.60" width="63.30" height="11.95" fill="url(#f2)" />
<rect x="456.30" y="158.60" width="10.80" height="11.95" fill="#43277a" />
<rect x="456.30" y="158.60" width="10.80" height="11.95" fill="url(#st)" />
<rect x="467.10" y="158.60" width="10.60" height="11.95" fill="#eeedf6" />
<rect x="477.70" y="158.60" width="10.40" height="11.95" fill="#43277a" />
<rect x="477.70" y="158.60" width="10.40" height="11.95" fill="url(#st)" />
<rect x="324.50" y="170.55" width="68.50" height="11.95" fill="#43277a" />
<rect x="324.50" y="170.55" width="68.50" height="11.95" fill="url(#st)" />
<rect x="393.00" y="170.55" width="63.30" height="11.95" fill="url(#f2)" />
<rect x="456.30" y="170.55" width="10.80" height="11.95" fill="#43277a" />
<rect x="456.30" y="170.55" width="10.80" height="11.95" fill="url(#st)" />
<rect x="467.10" y="170.55" width="10.60" height="11.95" fill="#eeedf6" />
<rect x="477.70" y="170.55" width="10.40" height="11.95" fill="#43277a" />
<rect x="477.70" y="170.55" width="10.40" height="11.95" fill="url(#st)" />
<rect x="324.50" y="182.50" width="68.50" height="11.95" fill="#43277a" />
<rect x="324.50" y="182.50" width="68.50" height="11.95" fill="url(#st)" />
<rect x="393.00" y="182.50" width="63.30" height="11.95" fill="#d6d4ec" />
<rect x="456.30" y="182.50" width="10.80" height="11.95" fill="#7c7bbf" />
<rect x="467.10" y="182.50" width="10.60" height="11.95" fill="#eeedf6" />
<rect x="477.70" y="182.50" width="10.40" height="11.95" fill="#43277a" />
<rect x="477.70" y="182.50" width="10.40" height="11.95" fill="url(#st)" />
<line x1="324.50" y1="170.55" x2="488.10" y2="170.55" stroke="#ffffff" stroke-width="0.6" opacity="0.85"/>
<line x1="324.50" y1="182.50" x2="488.10" y2="182.50" stroke="#ffffff" stroke-width="0.6" opacity="0.85"/>
<line x1="393.00" y1="158.60" x2="393.00" y2="194.45" stroke="#ffffff" stroke-width="0.5" opacity="0.8"/>
<line x1="456.30" y1="158.60" x2="456.30" y2="194.45" stroke="#ffffff" stroke-width="0.5" opacity="0.8"/>
<line x1="467.10" y1="158.60" x2="467.10" y2="194.45" stroke="#ffffff" stroke-width="0.5" opacity="0.8"/>
<line x1="477.70" y1="158.60" x2="477.70" y2="194.45" stroke="#ffffff" stroke-width="0.5" opacity="0.8"/>
<text x="317.80" y="35.02" font-size="6.3" text-anchor="end" letter-spacing="-0.3" fill="#2e2e30">10</text>
<text x="317.70" y="32.07" font-size="4.2" letter-spacing="-0.3" fill="#2e2e30">10</text>
<text x="319.70" y="46.97" font-size="6.3" text-anchor="end" letter-spacing="-0.3" fill="#2e2e30">10</text>
<text x="319.60" y="44.02" font-size="4.2" letter-spacing="-0.3" fill="#2e2e30">9</text>
<text x="319.70" y="58.92" font-size="6.3" text-anchor="end" letter-spacing="-0.3" fill="#2e2e30">10</text>
<text x="319.60" y="55.97" font-size="4.2" letter-spacing="-0.3" fill="#2e2e30">8</text>
<text x="317.80" y="78.97" font-size="6.3" text-anchor="end" letter-spacing="-0.3" fill="#2e2e30">10</text>
<text x="317.70" y="76.02" font-size="4.2" letter-spacing="-0.3" fill="#2e2e30">10</text>
<text x="319.70" y="90.92" font-size="6.3" text-anchor="end" letter-spacing="-0.3" fill="#2e2e30">10</text>
<text x="319.60" y="87.97" font-size="4.2" letter-spacing="-0.3" fill="#2e2e30">9</text>
<text x="319.70" y="102.88" font-size="6.3" text-anchor="end" letter-spacing="-0.3" fill="#2e2e30">10</text>
<text x="319.60" y="99.92" font-size="4.2" letter-spacing="-0.3" fill="#2e2e30">8</text>
<text x="317.80" y="122.82" font-size="6.3" text-anchor="end" letter-spacing="-0.3" fill="#2e2e30">10</text>
<text x="317.70" y="119.87" font-size="4.2" letter-spacing="-0.3" fill="#2e2e30">10</text>
<text x="319.70" y="134.77" font-size="6.3" text-anchor="end" letter-spacing="-0.3" fill="#2e2e30">10</text>
<text x="319.60" y="131.82" font-size="4.2" letter-spacing="-0.3" fill="#2e2e30">9</text>
<text x="319.70" y="146.72" font-size="6.3" text-anchor="end" letter-spacing="-0.3" fill="#2e2e30">10</text>
<text x="319.60" y="143.78" font-size="4.2" letter-spacing="-0.3" fill="#2e2e30">8</text>
<text x="317.80" y="166.82" font-size="6.3" text-anchor="end" letter-spacing="-0.3" fill="#2e2e30">10</text>
<text x="317.70" y="163.88" font-size="4.2" letter-spacing="-0.3" fill="#2e2e30">10</text>
<text x="319.70" y="178.77" font-size="6.3" text-anchor="end" letter-spacing="-0.3" fill="#2e2e30">10</text>
<text x="319.60" y="175.82" font-size="4.2" letter-spacing="-0.3" fill="#2e2e30">9</text>
<text x="319.70" y="190.72" font-size="6.3" text-anchor="end" letter-spacing="-0.3" fill="#2e2e30">10</text>
<text x="319.60" y="187.78" font-size="4.2" letter-spacing="-0.3" fill="#2e2e30">8</text>
<text transform="translate(303.80 44.72) rotate(-90)" x="0" y="2.36" font-size="6.6" text-anchor="middle" fill="#c9c9c9" textLength="35.00" lengthAdjust="spacingAndGlyphs">Consensus</text>
<text transform="translate(303.80 88.67) rotate(-90)" x="0" y="2.36" font-size="6.6" text-anchor="middle" fill="#6d6e71">MBC</text>
<text transform="translate(303.80 132.52) rotate(-90)" x="0" y="2.36" font-size="6.6" text-anchor="middle" fill="#551a5e" textLength="33.70" lengthAdjust="spacingAndGlyphs">WGAN-AM</text>
<text transform="translate(303.80 176.52) rotate(-90)" x="0" y="2.36" font-size="6.6" text-anchor="middle" fill="#54b374" textLength="40.00" lengthAdjust="spacingAndGlyphs">Evolutionary</text>
<text x="291.50" y="216.27" font-size="9.4" fill="#0d0d0d" font-weight="bold" stroke="#0d0d0d" stroke-width="0.35">g</text>
<text x="408.60" y="216.76" font-size="6.6" text-anchor="middle" fill="#231f20" textLength="149.00" lengthAdjust="spacingAndGlyphs">Fraction of represented enterovirus B diversity</text>
<line x1="324.10" y1="231.70" x2="324.10" y2="234.40" stroke="#808285" stroke-width="0.6" />
<text x="324.10" y="229.29" font-size="6.4" text-anchor="middle" fill="#3a3a3c" transform="translate(324.10 0) scale(0.94 1) translate(-324.10 0)">0</text>
<line x1="408.35" y1="231.70" x2="408.35" y2="234.40" stroke="#808285" stroke-width="0.6" />
<text x="408.35" y="229.29" font-size="6.4" text-anchor="middle" fill="#3a3a3c" transform="translate(408.35 0) scale(0.94 1) translate(-408.35 0)">0.5</text>
<line x1="492.60" y1="231.70" x2="492.60" y2="234.40" stroke="#808285" stroke-width="0.6" />
<text x="492.60" y="229.29" font-size="6.4" text-anchor="middle" fill="#3a3a3c" transform="translate(492.60 0) scale(0.94 1) translate(-492.60 0)">1.0</text>
<rect x="324.10" y="234.70" width="64.80" height="11.98" fill="#d9d8ee" />
<rect x="388.90" y="234.70" width="61.20" height="11.98" fill="#43277a" />
<rect x="388.90" y="234.70" width="61.20" height="11.98" fill="url(#st)" />
<rect x="450.10" y="234.70" width="39.20" height="11.98" fill="#eeedf6" />
<rect x="324.10" y="246.68" width="64.80" height="11.98" fill="#dddcef" />
<rect x="388.90" y="246.68" width="61.20" height="11.98" fill="#43277a" />
<rect x="388.90" y="246.68" width="61.20" height="11.98" fill="url(#st)" />
<rect x="450.10" y="246.68" width="39.20" height="11.98" fill="#eeedf6" />
<rect x="324.10" y="258.66" width="64.80" height="11.98" fill="#eceaf5" />
<rect x="388.90" y="258.66" width="61.20" height="11.98" fill="#43277a" />
<rect x="388.90" y="258.66" width="61.20" height="11.98" fill="url(#st)" />
<rect x="450.10" y="258.66" width="39.20" height="11.98" fill="#eeedf6" />
<line x1="324.10" y1="246.68" x2="489.30" y2="246.68" stroke="#ffffff" stroke-width="0.6" opacity="0.85"/>
<line x1="324.10" y1="258.66" x2="489.30" y2="258.66" stroke="#ffffff" stroke-width="0.6" opacity="0.85"/>
<line x1="388.90" y1="234.70" x2="388.90" y2="270.64" stroke="#ffffff" stroke-width="0.5" opacity="0.8"/>
<line x1="450.10" y1="234.70" x2="450.10" y2="270.64" stroke="#ffffff" stroke-width="0.5" opacity="0.8"/>
<rect x="324.10" y="278.80" width="64.80" height="11.98" fill="#dcdbef" />
<rect x="388.90" y="278.80" width="61.20" height="11.98" fill="#43277a" />
<rect x="388.90" y="278.80" width="61.20" height="11.98" fill="url(#st)" />
<rect x="450.10" y="278.80" width="39.20" height="11.98" fill="#eeedf6" />
<rect x="324.10" y="290.78" width="64.80" height="11.98" fill="#dfdef0" />
<rect x="388.90" y="290.78" width="61.20" height="11.98" fill="#43277a" />
<rect x="388.90" y="290.78" width="61.20" height="11.98" fill="url(#st)" />
<rect x="450.10" y="290.78" width="39.20" height="11.98" fill="#eeedf6" />
<rect x="324.10" y="302.76" width="64.80" height="11.98" fill="#eceaf5" />
<rect x="388.90" y="302.76" width="61.20" height="11.98" fill="#552f92" />
<rect x="450.10" y="302.76" width="39.20" height="11.98" fill="#eeedf6" />
<line x1="324.10" y1="290.78" x2="489.30" y2="290.78" stroke="#ffffff" stroke-width="0.6" opacity="0.85"/>
<line x1="324.10" y1="302.76" x2="489.30" y2="302.76" stroke="#ffffff" stroke-width="0.6" opacity="0.85"/>
<line x1="388.90" y1="278.80" x2="388.90" y2="314.74" stroke="#ffffff" stroke-width="0.5" opacity="0.8"/>
<line x1="450.10" y1="278.80" x2="450.10" y2="314.74" stroke="#ffffff" stroke-width="0.5" opacity="0.8"/>
<rect x="324.10" y="322.90" width="64.80" height="11.98" fill="#43277a" />
<rect x="324.10" y="322.90" width="64.80" height="11.98" fill="url(#st)" />
<rect x="388.90" y="322.90" width="61.20" height="11.98" fill="#43277a" />
<rect x="388.90" y="322.90" width="61.20" height="11.98" fill="url(#st)" />
<rect x="450.10" y="322.90" width="39.20" height="11.98" fill="#eeedf6" />
<rect x="324.10" y="334.88" width="64.80" height="11.98" fill="#43277a" />
<rect x="324.10" y="334.88" width="64.80" height="11.98" fill="url(#st)" />
<rect x="388.90" y="334.88" width="61.20" height="11.98" fill="#43277a" />
<rect x="388.90" y="334.88" width="61.20" height="11.98" fill="url(#st)" />
<rect x="450.10" y="334.88" width="39.20" height="11.98" fill="#eeedf6" />
<rect x="324.10" y="346.86" width="64.80" height="11.98" fill="url(#g1)" />
<rect x="388.90" y="346.86" width="61.20" height="11.98" fill="#43277a" />
<rect x="388.90" y="346.86" width="61.20" height="11.98" fill="url(#st)" />
<rect x="450.10" y="346.86" width="39.20" height="11.98" fill="#eeedf6" />
<line x1="324.10" y1="334.88" x2="489.30" y2="334.88" stroke="#ffffff" stroke-width="0.6" opacity="0.85"/>
<line x1="324.10" y1="346.86" x2="489.30" y2="346.86" stroke="#ffffff" stroke-width="0.6" opacity="0.85"/>
<line x1="388.90" y1="322.90" x2="388.90" y2="358.84" stroke="#ffffff" stroke-width="0.5" opacity="0.8"/>
<line x1="450.10" y1="322.90" x2="450.10" y2="358.84" stroke="#ffffff" stroke-width="0.5" opacity="0.8"/>
<rect x="324.10" y="366.80" width="64.80" height="11.98" fill="#43277a" />
<rect x="324.10" y="366.80" width="64.80" height="11.98" fill="url(#st)" />
<rect x="388.90" y="366.80" width="61.20" height="11.98" fill="#43277a" />
<rect x="388.90" y="366.80" width="61.20" height="11.98" fill="url(#st)" />
<rect x="450.10" y="366.80" width="39.20" height="11.98" fill="#eeedf6" />
<rect x="324.10" y="378.78" width="64.80" height="11.98" fill="#43277a" />
<rect x="324.10" y="378.78" width="64.80" height="11.98" fill="url(#st)" />
<rect x="388.90" y="378.78" width="61.20" height="11.98" fill="#43277a" />
<rect x="388.90" y="378.78" width="61.20" height="11.98" fill="url(#st)" />
<rect x="450.10" y="378.78" width="39.20" height="11.98" fill="#eeedf6" />
<rect x="324.10" y="390.76" width="64.80" height="11.98" fill="url(#g2)" />
<rect x="388.90" y="390.76" width="61.20" height="11.98" fill="#43277a" />
<rect x="388.90" y="390.76" width="61.20" height="11.98" fill="url(#st)" />
<rect x="450.10" y="390.76" width="39.20" height="11.98" fill="#eeedf6" />
<line x1="324.10" y1="378.78" x2="489.30" y2="378.78" stroke="#ffffff" stroke-width="0.6" opacity="0.85"/>
<line x1="324.10" y1="390.76" x2="489.30" y2="390.76" stroke="#ffffff" stroke-width="0.6" opacity="0.85"/>
<line x1="388.90" y1="366.80" x2="388.90" y2="402.74" stroke="#ffffff" stroke-width="0.5" opacity="0.8"/>
<line x1="450.10" y1="366.80" x2="450.10" y2="402.74" stroke="#ffffff" stroke-width="0.5" opacity="0.8"/>
<text x="317.30" y="242.94" font-size="6.3" text-anchor="end" letter-spacing="-0.3" fill="#2e2e30">10</text>
<text x="317.20" y="239.99" font-size="4.2" letter-spacing="-0.3" fill="#2e2e30">10</text>
<text x="319.20" y="254.92" font-size="6.3" text-anchor="end" letter-spacing="-0.3" fill="#2e2e30">10</text>
<text x="319.10" y="251.97" font-size="4.2" letter-spacing="-0.3" fill="#2e2e30">9</text>
<text x="319.20" y="266.90" font-size="6.3" text-anchor="end" letter-spacing="-0.3" fill="#2e2e30">10</text>
<text x="319.10" y="263.95" font-size="4.2" letter-spacing="-0.3" fill="#2e2e30">8</text>
<text x="317.30" y="287.04" font-size="6.3" text-anchor="end" letter-spacing="-0.3" fill="#2e2e30">10</text>
<text x="317.20" y="284.09" font-size="4.2" letter-spacing="-0.3" fill="#2e2e30">10</text>
<text x="319.20" y="299.02" font-size="6.3" text-anchor="end" letter-spacing="-0.3" fill="#2e2e30">10</text>
<text x="319.10" y="296.07" font-size="4.2" letter-spacing="-0.3" fill="#2e2e30">9</text>
<text x="319.20" y="311.00" font-size="6.3" text-anchor="end" letter-spacing="-0.3" fill="#2e2e30">10</text>
<text x="319.10" y="308.05" font-size="4.2" letter-spacing="-0.3" fill="#2e2e30">8</text>
<text x="317.30" y="331.14" font-size="6.3" text-anchor="end" letter-spacing="-0.3" fill="#2e2e30">10</text>
<text x="317.20" y="328.19" font-size="4.2" letter-spacing="-0.3" fill="#2e2e30">10</text>
<text x="319.20" y="343.12" font-size="6.3" text-anchor="end" letter-spacing="-0.3" fill="#2e2e30">10</text>
<text x="319.10" y="340.17" font-size="4.2" letter-spacing="-0.3" fill="#2e2e30">9</text>
<text x="319.20" y="355.10" font-size="6.3" text-anchor="end" letter-spacing="-0.3" fill="#2e2e30">10</text>
<text x="319.10" y="352.15" font-size="4.2" letter-spacing="-0.3" fill="#2e2e30">8</text>
<text x="317.30" y="375.04" font-size="6.3" text-anchor="end" letter-spacing="-0.3" fill="#2e2e30">10</text>
<text x="317.20" y="372.09" font-size="4.2" letter-spacing="-0.3" fill="#2e2e30">10</text>
<text x="319.20" y="387.02" font-size="6.3" text-anchor="end" letter-spacing="-0.3" fill="#2e2e30">10</text>
<text x="319.10" y="384.07" font-size="4.2" letter-spacing="-0.3" fill="#2e2e30">9</text>
<text x="319.20" y="399.00" font-size="6.3" text-anchor="end" letter-spacing="-0.3" fill="#2e2e30">10</text>
<text x="319.10" y="396.05" font-size="4.2" letter-spacing="-0.3" fill="#2e2e30">8</text>
<text transform="translate(303.80 252.67) rotate(-90)" x="0" y="2.36" font-size="6.6" text-anchor="middle" fill="#c9c9c9" textLength="35.00" lengthAdjust="spacingAndGlyphs">Consensus</text>
<text transform="translate(303.80 295.57) rotate(-90)" x="0" y="2.36" font-size="6.6" text-anchor="middle" fill="#6d6e71" textLength="14.80" lengthAdjust="spacingAndGlyphs">MBC</text>
<text transform="translate(303.80 340.87) rotate(-90)" x="0" y="2.36" font-size="6.6" text-anchor="middle" fill="#551a5e" textLength="33.70" lengthAdjust="spacingAndGlyphs">WGAN-AM</text>
<text transform="translate(303.80 384.77) rotate(-90)" x="0" y="2.36" font-size="6.6" text-anchor="middle" fill="#54b374" textLength="40.00" lengthAdjust="spacingAndGlyphs">Evolutionary</text>
<text x="291.50" y="424.87" font-size="9.4" fill="#0d0d0d" font-weight="bold" stroke="#0d0d0d" stroke-width="0.35">h</text>
<text x="408.80" y="423.96" font-size="6.6" text-anchor="middle" fill="#231f20" textLength="141.50" lengthAdjust="spacingAndGlyphs">Fraction of represented Lassa virus diversity</text>
<line x1="324.00" y1="438.90" x2="324.00" y2="441.70" stroke="#808285" stroke-width="0.6" />
<text x="324.00" y="437.09" font-size="6.4" text-anchor="middle" fill="#3a3a3c" transform="translate(324.00 0) scale(0.94 1) translate(-324.00 0)">0</text>
<line x1="408.30" y1="438.90" x2="408.30" y2="441.70" stroke="#808285" stroke-width="0.6" />
<text x="408.30" y="437.09" font-size="6.4" text-anchor="middle" fill="#3a3a3c" transform="translate(408.30 0) scale(0.94 1) translate(-408.30 0)">0.5</text>
<line x1="492.60" y1="438.90" x2="492.60" y2="441.70" stroke="#808285" stroke-width="0.6" />
<text x="492.60" y="437.09" font-size="6.4" text-anchor="middle" fill="#3a3a3c" transform="translate(492.60 0) scale(0.94 1) translate(-492.60 0)">1.0</text>
<rect x="324.00" y="442.80" width="55.20" height="11.12" fill="#43277a" />
<rect x="324.00" y="442.80" width="55.20" height="11.12" fill="url(#st)" />
<rect x="379.20" y="442.80" width="56.50" height="11.12" fill="#bfbee0" />
<rect x="435.70" y="442.80" width="26.10" height="11.12" fill="#43277a" />
<rect x="435.70" y="442.80" width="26.10" height="11.12" fill="url(#st)" />
<rect x="461.80" y="442.80" width="14.20" height="11.12" fill="#d0cfe8" />
<rect x="476.00" y="442.80" width="13.30" height="11.12" fill="#43277a" />
<rect x="476.00" y="442.80" width="13.30" height="11.12" fill="url(#st)" />
<rect x="324.00" y="453.92" width="55.20" height="11.12" fill="#43277a" />
<rect x="324.00" y="453.92" width="55.20" height="11.12" fill="url(#st)" />
<rect x="379.20" y="453.92" width="56.50" height="11.12" fill="#c6c5e3" />
<rect x="435.70" y="453.92" width="26.10" height="11.12" fill="#43277a" />
<rect x="435.70" y="453.92" width="26.10" height="11.12" fill="url(#st)" />
<rect x="461.80" y="453.92" width="14.20" height="11.12" fill="#d3d2ea" />
<rect x="476.00" y="453.92" width="13.30" height="11.12" fill="#43277a" />
<rect x="476.00" y="453.92" width="13.30" height="11.12" fill="url(#st)" />
<rect x="324.00" y="465.04" width="55.20" height="11.12" fill="#43277a" />
<rect x="324.00" y="465.04" width="55.20" height="11.12" fill="url(#st)" />
<rect x="379.20" y="465.04" width="56.50" height="11.12" fill="#efeef7" />
<rect x="435.70" y="465.04" width="26.10" height="11.12" fill="#e1e0f0" />
<rect x="461.80" y="465.04" width="14.20" height="11.12" fill="#efeef7" />
<rect x="476.00" y="465.04" width="13.30" height="11.12" fill="#dedded" />
<line x1="324.00" y1="453.92" x2="489.30" y2="453.92" stroke="#ffffff" stroke-width="0.6" opacity="0.85"/>
<line x1="324.00" y1="465.04" x2="489.30" y2="465.04" stroke="#ffffff" stroke-width="0.6" opacity="0.85"/>
<line x1="379.20" y1="442.80" x2="379.20" y2="476.16" stroke="#ffffff" stroke-width="0.5" opacity="0.8"/>
<line x1="435.70" y1="442.80" x2="435.70" y2="476.16" stroke="#ffffff" stroke-width="0.5" opacity="0.8"/>
<line x1="461.80" y1="442.80" x2="461.80" y2="476.16" stroke="#ffffff" stroke-width="0.5" opacity="0.8"/>
<line x1="476.00" y1="442.80" x2="476.00" y2="476.16" stroke="#ffffff" stroke-width="0.5" opacity="0.8"/>
<rect x="324.00" y="484.30" width="55.20" height="11.12" fill="#43277a" />
<rect x="324.00" y="484.30" width="55.20" height="11.12" fill="url(#st)" />
<rect x="379.20" y="484.30" width="56.50" height="11.12" fill="#43277a" />
<rect x="379.20" y="484.30" width="56.50" height="11.12" fill="url(#st)" />
<rect x="435.70" y="484.30" width="26.10" height="11.12" fill="#43277a" />
<rect x="435.70" y="484.30" width="26.10" height="11.12" fill="url(#st)" />
<rect x="461.80" y="484.30" width="14.20" height="11.12" fill="#6a45a5" />
<rect x="476.00" y="484.30" width="13.30" height="11.12" fill="#43277a" />
<rect x="476.00" y="484.30" width="13.30" height="11.12" fill="url(#st)" />
<rect x="324.00" y="495.42" width="55.20" height="11.12" fill="#43277a" />
<rect x="324.00" y="495.42" width="55.20" height="11.12" fill="url(#st)" />
<rect x="379.20" y="495.42" width="56.50" height="11.12" fill="#43277a" />
<rect x="379.20" y="495.42" width="56.50" height="11.12" fill="url(#st)" />
<rect x="435.70" y="495.42" width="26.10" height="11.12" fill="#43277a" />
<rect x="435.70" y="495.42" width="26.10" height="11.12" fill="url(#st)" />
<rect x="461.80" y="495.42" width="14.20" height="11.12" fill="#59309b" />
<rect x="476.00" y="495.42" width="13.30" height="11.12" fill="#43277a" />
<rect x="476.00" y="495.42" width="13.30" height="11.12" fill="url(#st)" />
<rect x="324.00" y="506.54" width="55.20" height="11.12" fill="#43277a" />
<rect x="324.00" y="506.54" width="55.20" height="11.12" fill="url(#st)" />
<rect x="379.20" y="506.54" width="56.50" height="11.12" fill="#e6e5f3" />
<rect x="435.70" y="506.54" width="26.10" height="11.12" fill="#cfcee8" />
<rect x="461.80" y="506.54" width="14.20" height="11.12" fill="#e6e5f3" />
<rect x="476.00" y="506.54" width="13.30" height="11.12" fill="#c4c3e2" />
<line x1="324.00" y1="495.42" x2="489.30" y2="495.42" stroke="#ffffff" stroke-width="0.6" opacity="0.85"/>
<line x1="324.00" y1="506.54" x2="489.30" y2="506.54" stroke="#ffffff" stroke-width="0.6" opacity="0.85"/>
<line x1="379.20" y1="484.30" x2="379.20" y2="517.66" stroke="#ffffff" stroke-width="0.5" opacity="0.8"/>
<line x1="435.70" y1="484.30" x2="435.70" y2="517.66" stroke="#ffffff" stroke-width="0.5" opacity="0.8"/>
<line x1="461.80" y1="484.30" x2="461.80" y2="517.66" stroke="#ffffff" stroke-width="0.5" opacity="0.8"/>
<line x1="476.00" y1="484.30" x2="476.00" y2="517.66" stroke="#ffffff" stroke-width="0.5" opacity="0.8"/>
<rect x="324.00" y="525.70" width="55.20" height="11.12" fill="#43277a" />
<rect x="324.00" y="525.70" width="55.20" height="11.12" fill="url(#st)" />
<rect x="379.20" y="525.70" width="56.50" height="11.12" fill="#43277a" />
<rect x="379.20" y="525.70" width="56.50" height="11.12" fill="url(#st)" />
<rect x="435.70" y="525.70" width="26.10" height="11.12" fill="#43277a" />
<rect x="435.70" y="525.70" width="26.10" height="11.12" fill="url(#st)" />
<rect x="461.80" y="525.70" width="14.20" height="11.12" fill="#5e369e" />
<rect x="476.00" y="525.70" width="13.30" height="11.12" fill="#43277a" />
<rect x="476.00" y="525.70" width="13.30" height="11.12" fill="url(#st)" />
<rect x="324.00" y="536.82" width="55.20" height="11.12" fill="#43277a" />
<rect x="324.00" y="536.82" width="55.20" height="11.12" fill="url(#st)" />
<rect x="379.20" y="536.82" width="56.50" height="11.12" fill="#43277a" />
<rect x="379.20" y="536.82" width="56.50" height="11.12" fill="url(#st)" />
<rect x="435.70" y="536.82" width="26.10" height="11.12" fill="#43277a" />
<rect x="435.70" y="536.82" width="26.10" height="11.12" fill="url(#st)" />
<rect x="461.80" y="536.82" width="14.20" height="11.12" fill="#4b2a86" />
<rect x="476.00" y="536.82" width="13.30" height="11.12" fill="#43277a" />
<rect x="476.00" y="536.82" width="13.30" height="11.12" fill="url(#st)" />
<rect x="324.00" y="547.94" width="55.20" height="11.12" fill="#43277a" />
<rect x="324.00" y="547.94" width="55.20" height="11.12" fill="url(#st)" />
<rect x="379.20" y="547.94" width="56.50" height="11.12" fill="#e4e3f2" />
<rect x="435.70" y="547.94" width="26.10" height="11.12" fill="#c9c8e5" />
<rect x="461.80" y="547.94" width="14.20" height="11.12" fill="#e4e3f2" />
<rect x="476.00" y="547.94" width="13.30" height="11.12" fill="#bcbbde" />
<line x1="324.00" y1="536.82" x2="489.30" y2="536.82" stroke="#ffffff" stroke-width="0.6" opacity="0.85"/>
<line x1="324.00" y1="547.94" x2="489.30" y2="547.94" stroke="#ffffff" stroke-width="0.6" opacity="0.85"/>
<line x1="379.20" y1="525.70" x2="379.20" y2="559.06" stroke="#ffffff" stroke-width="0.5" opacity="0.8"/>
<line x1="435.70" y1="525.70" x2="435.70" y2="559.06" stroke="#ffffff" stroke-width="0.5" opacity="0.8"/>
<line x1="461.80" y1="525.70" x2="461.80" y2="559.06" stroke="#ffffff" stroke-width="0.5" opacity="0.8"/>
<line x1="476.00" y1="525.70" x2="476.00" y2="559.06" stroke="#ffffff" stroke-width="0.5" opacity="0.8"/>
<text x="317.30" y="450.61" font-size="6.3" text-anchor="end" letter-spacing="-0.3" fill="#2e2e30">10</text>
<text x="317.20" y="447.66" font-size="4.2" letter-spacing="-0.3" fill="#2e2e30">10</text>
<text x="319.20" y="461.73" font-size="6.3" text-anchor="end" letter-spacing="-0.3" fill="#2e2e30">10</text>
<text x="319.10" y="458.78" font-size="4.2" letter-spacing="-0.3" fill="#2e2e30">9</text>
<text x="319.20" y="472.85" font-size="6.3" text-anchor="end" letter-spacing="-0.3" fill="#2e2e30">10</text>
<text x="319.10" y="469.90" font-size="4.2" letter-spacing="-0.3" fill="#2e2e30">8</text>
<text x="317.30" y="492.11" font-size="6.3" text-anchor="end" letter-spacing="-0.3" fill="#2e2e30">10</text>
<text x="317.20" y="489.16" font-size="4.2" letter-spacing="-0.3" fill="#2e2e30">10</text>
<text x="319.20" y="503.23" font-size="6.3" text-anchor="end" letter-spacing="-0.3" fill="#2e2e30">10</text>
<text x="319.10" y="500.28" font-size="4.2" letter-spacing="-0.3" fill="#2e2e30">9</text>
<text x="319.20" y="514.35" font-size="6.3" text-anchor="end" letter-spacing="-0.3" fill="#2e2e30">10</text>
<text x="319.10" y="511.40" font-size="4.2" letter-spacing="-0.3" fill="#2e2e30">8</text>
<text x="317.30" y="533.51" font-size="6.3" text-anchor="end" letter-spacing="-0.3" fill="#2e2e30">10</text>
<text x="317.20" y="530.56" font-size="4.2" letter-spacing="-0.3" fill="#2e2e30">10</text>
<text x="319.20" y="544.63" font-size="6.3" text-anchor="end" letter-spacing="-0.3" fill="#2e2e30">10</text>
<text x="319.10" y="541.68" font-size="4.2" letter-spacing="-0.3" fill="#2e2e30">9</text>
<text x="319.20" y="555.75" font-size="6.3" text-anchor="end" letter-spacing="-0.3" fill="#2e2e30">10</text>
<text x="319.10" y="552.80" font-size="4.2" letter-spacing="-0.3" fill="#2e2e30">8</text>
<text transform="translate(295.70 456.20) rotate(-90)" x="0" y="2.36" font-size="6.6" text-anchor="middle" fill="#6d6e71" textLength="17.60" lengthAdjust="spacingAndGlyphs">MBC/</text>
<text transform="translate(303.80 456.40) rotate(-90)" x="0" y="2.36" font-size="6.6" text-anchor="middle" fill="#c9c9c9" textLength="35.00" lengthAdjust="spacingAndGlyphs">Consensus</text>
<text transform="translate(303.80 497.90) rotate(-90)" x="0" y="2.36" font-size="6.6" text-anchor="middle" fill="#551a5e" textLength="33.70" lengthAdjust="spacingAndGlyphs">WGAN-AM</text>
<text transform="translate(303.80 538.40) rotate(-90)" x="0" y="2.36" font-size="6.6" text-anchor="middle" fill="#54b374" textLength="39.20" lengthAdjust="spacingAndGlyphs">Evolutionary</text>
<text x="216.4" y="577.3" font-size="9.5" font-weight="bold" fill="#0d0d0d" stroke="#0d0d0d" stroke-width="0.4">i</text>
<line x1="279.20" y1="575.50" x2="285.80" y2="575.50" stroke="#6d6e71" stroke-width="0.8" />
<text x="289.20" y="577.86" font-size="6.6" fill="#231f20" textLength="51.50" lengthAdjust="spacingAndGlyphs">MBC/consensus</text>
<line x1="352.10" y1="575.50" x2="358.20" y2="575.50" stroke="#551a5e" stroke-width="0.8" />
<text x="361.70" y="577.86" font-size="6.6" fill="#231f20" textLength="33.50" lengthAdjust="spacingAndGlyphs">WGAN-AM</text>
<line x1="405.50" y1="575.50" x2="412.00" y2="575.50" stroke="#54b374" stroke-width="0.8" />
<text x="415.60" y="577.86" font-size="6.6" fill="#231f20" textLength="39.50" lengthAdjust="spacingAndGlyphs">Evolutionary</text>
<text x="262.60" y="593.50" font-size="5.9" text-anchor="middle">Target 1 at 10<tspan font-size="3.5" dy="-2.2">8</tspan></text>
<text x="262.60" y="600.81" font-size="5.9" text-anchor="middle" fill="#231f20">(33.3%)</text>
<line x1="243.20" y1="659.50" x2="278.70" y2="659.50" stroke="#b9babc" stroke-width="0.85" stroke-dasharray="2.9 1.9"/>
<line x1="246.60" y1="609.00" x2="246.60" y2="662.60" stroke="#8e9092" stroke-width="0.6" />
<line x1="246.60" y1="662.60" x2="279.20" y2="662.60" stroke="#8e9092" stroke-width="0.6" />
<line x1="243.60" y1="625.20" x2="246.60" y2="625.20" stroke="#8e9092" stroke-width="0.6" />
<text x="241.20" y="627.69" font-size="6.4" text-anchor="end" fill="#3a3a3c">2</text>
<line x1="243.60" y1="642.30" x2="246.60" y2="642.30" stroke="#8e9092" stroke-width="0.6" />
<text x="241.20" y="644.79" font-size="6.4" text-anchor="end" fill="#3a3a3c">1</text>
<line x1="243.60" y1="659.50" x2="246.60" y2="659.50" stroke="#8e9092" stroke-width="0.6" />
<text x="241.20" y="661.99" font-size="6.4" text-anchor="end" fill="#3a3a3c">0</text>
<line x1="249.70" y1="662.60" x2="249.70" y2="665.30" stroke="#8e9092" stroke-width="0.6" />
<text x="249.70" y="673.29" font-size="6.4" text-anchor="middle" fill="#3a3a3c" transform="translate(249.70 0) scale(0.97 1) translate(-249.70 0)">0</text>
<line x1="261.70" y1="662.60" x2="261.70" y2="665.30" stroke="#8e9092" stroke-width="0.6" />
<text x="261.70" y="673.29" font-size="6.4" text-anchor="middle" fill="#3a3a3c" transform="translate(261.70 0) scale(0.97 1) translate(-261.70 0)">75</text>
<line x1="273.70" y1="662.60" x2="273.70" y2="665.30" stroke="#8e9092" stroke-width="0.6" />
<text x="273.70" y="673.29" font-size="6.4" text-anchor="middle" fill="#3a3a3c" transform="translate(273.70 0) scale(0.97 1) translate(-273.70 0)">150</text>
<text x="315.10" y="593.50" font-size="5.9" text-anchor="middle">Target 2 at 10<tspan font-size="3.5" dy="-2.2">8</tspan></text>
<text x="315.10" y="600.81" font-size="5.9" text-anchor="middle" fill="#231f20">(33.3%)</text>
<line x1="295.60" y1="659.50" x2="330.30" y2="659.50" stroke="#b9babc" stroke-width="0.85" stroke-dasharray="2.9 1.9"/>
<line x1="299.00" y1="609.00" x2="299.00" y2="662.60" stroke="#8e9092" stroke-width="0.6" />
<line x1="299.00" y1="662.60" x2="330.80" y2="662.60" stroke="#8e9092" stroke-width="0.6" />
<line x1="296.00" y1="614.30" x2="299.00" y2="614.30" stroke="#8e9092" stroke-width="0.6" />
<text x="293.60" y="616.79" font-size="6.4" text-anchor="end" fill="#3a3a3c">0.6</text>
<line x1="296.00" y1="629.30" x2="299.00" y2="629.30" stroke="#8e9092" stroke-width="0.6" />
<text x="293.60" y="631.79" font-size="6.4" text-anchor="end" fill="#3a3a3c">0.4</text>
<line x1="296.00" y1="644.50" x2="299.00" y2="644.50" stroke="#8e9092" stroke-width="0.6" />
<text x="293.60" y="646.99" font-size="6.4" text-anchor="end" fill="#3a3a3c">0.2</text>
<line x1="296.00" y1="659.50" x2="299.00" y2="659.50" stroke="#8e9092" stroke-width="0.6" />
<text x="293.60" y="661.99" font-size="6.4" text-anchor="end" fill="#3a3a3c">0</text>
<line x1="302.10" y1="662.60" x2="302.10" y2="665.30" stroke="#8e9092" stroke-width="0.6" />
<text x="302.10" y="673.29" font-size="6.4" text-anchor="middle" fill="#3a3a3c" transform="translate(302.10 0) scale(0.97 1) translate(-302.10 0)">0</text>
<line x1="314.10" y1="662.60" x2="314.10" y2="665.30" stroke="#8e9092" stroke-width="0.6" />
<text x="314.10" y="673.29" font-size="6.4" text-anchor="middle" fill="#3a3a3c" transform="translate(314.10 0) scale(0.97 1) translate(-314.10 0)">75</text>
<line x1="326.10" y1="662.60" x2="326.10" y2="665.30" stroke="#8e9092" stroke-width="0.6" />
<text x="326.10" y="673.29" font-size="6.4" text-anchor="middle" fill="#3a3a3c" transform="translate(326.10 0) scale(0.97 1) translate(-326.10 0)">150</text>
<text x="366.80" y="593.50" font-size="5.9" text-anchor="middle">Target 3 at 10<tspan font-size="3.5" dy="-2.2">8</tspan></text>
<text x="366.80" y="600.81" font-size="5.9" text-anchor="middle" fill="#231f20">(16.7%)</text>
<line x1="347.50" y1="659.50" x2="382.50" y2="659.50" stroke="#b9babc" stroke-width="0.85" stroke-dasharray="2.9 1.9"/>
<line x1="350.90" y1="609.00" x2="350.90" y2="662.60" stroke="#8e9092" stroke-width="0.6" />
<line x1="350.90" y1="662.60" x2="383.00" y2="662.60" stroke="#8e9092" stroke-width="0.6" />
<line x1="347.90" y1="611.40" x2="350.90" y2="611.40" stroke="#8e9092" stroke-width="0.6" />
<text x="345.50" y="613.89" font-size="6.4" text-anchor="end" fill="#3a3a3c">1.0</text>
<line x1="347.90" y1="635.60" x2="350.90" y2="635.60" stroke="#8e9092" stroke-width="0.6" />
<text x="345.50" y="638.09" font-size="6.4" text-anchor="end" fill="#3a3a3c">0.5</text>
<line x1="347.90" y1="659.50" x2="350.90" y2="659.50" stroke="#8e9092" stroke-width="0.6" />
<text x="345.50" y="661.99" font-size="6.4" text-anchor="end" fill="#3a3a3c">0</text>
<line x1="353.80" y1="662.60" x2="353.80" y2="665.30" stroke="#8e9092" stroke-width="0.6" />
<text x="353.80" y="673.29" font-size="6.4" text-anchor="middle" fill="#3a3a3c" transform="translate(353.80 0) scale(0.97 1) translate(-353.80 0)">0</text>
<line x1="365.80" y1="662.60" x2="365.80" y2="665.30" stroke="#8e9092" stroke-width="0.6" />
<text x="365.80" y="673.29" font-size="6.4" text-anchor="middle" fill="#3a3a3c" transform="translate(365.80 0) scale(0.97 1) translate(-365.80 0)">75</text>
<line x1="377.80" y1="662.60" x2="377.80" y2="665.30" stroke="#8e9092" stroke-width="0.6" />
<text x="377.80" y="673.29" font-size="6.4" text-anchor="middle" fill="#3a3a3c" transform="translate(377.80 0) scale(0.97 1) translate(-377.80 0)">150</text>
<text x="418.80" y="593.50" font-size="5.9" text-anchor="middle">Target 4 at 10<tspan font-size="3.5" dy="-2.2">8</tspan></text>
<text x="418.80" y="600.81" font-size="5.9" text-anchor="middle" fill="#231f20">(8.3%)</text>
<line x1="399.40" y1="659.50" x2="435.20" y2="659.50" stroke="#b9babc" stroke-width="0.85" stroke-dasharray="2.9 1.9"/>
<line x1="402.80" y1="609.00" x2="402.80" y2="662.60" stroke="#8e9092" stroke-width="0.6" />
<line x1="402.80" y1="662.60" x2="435.70" y2="662.60" stroke="#8e9092" stroke-width="0.6" />
<line x1="399.80" y1="633.60" x2="402.80" y2="633.60" stroke="#8e9092" stroke-width="0.6" />
<text x="397.40" y="636.09" font-size="6.4" text-anchor="end" fill="#3a3a3c">0.2</text>
<line x1="399.80" y1="659.30" x2="402.80" y2="659.30" stroke="#8e9092" stroke-width="0.6" />
<text x="397.40" y="661.79" font-size="6.4" text-anchor="end" fill="#3a3a3c">0</text>
<line x1="406.00" y1="662.60" x2="406.00" y2="665.30" stroke="#8e9092" stroke-width="0.6" />
<text x="406.00" y="673.29" font-size="6.4" text-anchor="middle" fill="#3a3a3c" transform="translate(406.00 0) scale(0.97 1) translate(-406.00 0)">0</text>
<line x1="418.00" y1="662.60" x2="418.00" y2="665.30" stroke="#8e9092" stroke-width="0.6" />
<text x="418.00" y="673.29" font-size="6.4" text-anchor="middle" fill="#3a3a3c" transform="translate(418.00 0) scale(0.97 1) translate(-418.00 0)">75</text>
<line x1="430.00" y1="662.60" x2="430.00" y2="665.30" stroke="#8e9092" stroke-width="0.6" />
<text x="430.00" y="673.29" font-size="6.4" text-anchor="middle" fill="#3a3a3c" transform="translate(430.00 0) scale(0.97 1) translate(-430.00 0)">150</text>
<text x="471.00" y="593.50" font-size="5.9" text-anchor="middle">Target 5 at 10<tspan font-size="3.5" dy="-2.2">8</tspan></text>
<text x="471.00" y="600.81" font-size="5.9" text-anchor="middle" fill="#231f20">(8.3%)</text>
<line x1="451.30" y1="659.50" x2="486.80" y2="659.50" stroke="#b9babc" stroke-width="0.85" stroke-dasharray="2.9 1.9"/>
<line x1="454.70" y1="609.00" x2="454.70" y2="662.60" stroke="#8e9092" stroke-width="0.6" />
<line x1="454.70" y1="662.60" x2="487.30" y2="662.60" stroke="#8e9092" stroke-width="0.6" />
<line x1="451.70" y1="614.60" x2="454.70" y2="614.60" stroke="#8e9092" stroke-width="0.6" />
<text x="449.30" y="617.09" font-size="6.4" text-anchor="end" fill="#3a3a3c">1.5</text>
<line x1="451.70" y1="629.50" x2="454.70" y2="629.50" stroke="#8e9092" stroke-width="0.6" />
<text x="449.30" y="631.99" font-size="6.4" text-anchor="end" fill="#3a3a3c">1.0</text>
<line x1="451.70" y1="644.50" x2="454.70" y2="644.50" stroke="#8e9092" stroke-width="0.6" />
<text x="449.30" y="646.99" font-size="6.4" text-anchor="end" fill="#3a3a3c">0.5</text>
<line x1="451.70" y1="659.50" x2="454.70" y2="659.50" stroke="#8e9092" stroke-width="0.6" />
<text x="449.30" y="661.99" font-size="6.4" text-anchor="end" fill="#3a3a3c">0</text>
<line x1="457.90" y1="662.60" x2="457.90" y2="665.30" stroke="#8e9092" stroke-width="0.6" />
<text x="457.90" y="673.29" font-size="6.4" text-anchor="middle" fill="#3a3a3c" transform="translate(457.90 0) scale(0.97 1) translate(-457.90 0)">0</text>
<line x1="469.90" y1="662.60" x2="469.90" y2="665.30" stroke="#8e9092" stroke-width="0.6" />
<text x="469.90" y="673.29" font-size="6.4" text-anchor="middle" fill="#3a3a3c" transform="translate(469.90 0) scale(0.97 1) translate(-469.90 0)">75</text>
<line x1="481.90" y1="662.60" x2="481.90" y2="665.30" stroke="#8e9092" stroke-width="0.6" />
<text x="481.90" y="673.29" font-size="6.4" text-anchor="middle" fill="#3a3a3c" transform="translate(481.90 0) scale(0.97 1) translate(-481.90 0)">150</text>
<text transform="translate(221.30 636.80) rotate(-90)" x="0" y="2.36" font-size="6.6" text-anchor="middle" fill="#231f20" textLength="36.00" lengthAdjust="spacingAndGlyphs">Normalized</text>
<text transform="translate(228.60 636.80) rotate(-90)" x="0" y="2.36" font-size="6.6" text-anchor="middle" fill="#231f20" textLength="41.50" lengthAdjust="spacingAndGlyphs">fluorescence</text>
<text x="367.00" y="684.16" font-size="6.6" text-anchor="middle" fill="#231f20" textLength="33.50" lengthAdjust="spacingAndGlyphs">Time (min)</text>
<path d="M249.70 659.50 L250.19 658.66 L250.68 657.61 L251.17 656.30 L251.67 654.69 L252.16 652.74 L252.65 650.44 L253.14 647.79 L253.63 644.82 L254.12 641.59 L254.62 638.19 L255.11 634.75 L255.60 631.38 L256.09 628.21 L256.58 625.31 L257.07 622.75 L257.57 620.54 L258.06 618.69 L258.55 617.15 L259.04 615.91 L259.53 614.92 L260.02 614.13 L260.52 613.51 L261.01 613.02 L261.50 612.65 L261.99 612.36 L262.48 612.13 L262.97 611.96 L263.47 611.83 L263.96 611.73 L264.45 611.65 L264.94 611.59 L265.43 611.55 L265.93 611.51 L266.42 611.49 L266.91 611.47 L267.40 611.45 L267.89 611.44 L268.38 611.43 L268.88 611.42 L269.37 611.42 L269.86 611.41 L270.35 611.41 L270.84 611.41 L271.33 611.41 L271.82 611.40 L272.32 611.40 L272.81 611.40 L273.30 611.40 L273.79 611.40 L274.28 611.40 L274.77 611.40 L275.27 611.40 L275.76 611.40 L276.25 611.40 L276.74 611.40 L277.23 611.40 L277.72 611.40 L278.22 611.40 L278.71 611.40 L279.20 611.40" fill="none" stroke="#6d6e71" stroke-width="1.05" stroke-linejoin="round" stroke-linecap="round"/>
<path d="M249.70 659.50 L250.19 658.76 L250.68 657.83 L251.17 656.66 L251.67 655.22 L252.16 653.46 L252.65 651.36 L253.14 648.91 L253.63 646.11 L254.12 643.02 L254.62 639.72 L255.11 636.31 L255.60 632.92 L256.09 629.66 L256.58 626.63 L257.07 623.92 L257.57 621.54 L258.06 619.53 L258.55 617.85 L259.04 616.47 L259.53 615.36 L260.02 614.48 L260.52 613.79 L261.01 613.24 L261.50 612.82 L261.99 612.49 L262.48 612.24 L262.97 612.04 L263.47 611.89 L263.96 611.77 L264.45 611.69 L264.94 611.62 L265.43 611.57 L265.93 611.53 L266.42 611.50 L266.91 611.47 L267.40 611.46 L267.89 611.44 L268.38 611.43 L268.88 611.43 L269.37 611.42 L269.86 611.41 L270.35 611.41 L270.84 611.41 L271.33 611.41 L271.82 611.40 L272.32 611.40 L272.81 611.40 L273.30 611.40 L273.79 611.40 L274.28 611.40 L274.77 611.40 L275.27 611.40 L275.76 611.40 L276.25 611.40 L276.74 611.40 L277.23 611.40 L277.72 611.40 L278.22 611.40 L278.71 611.40 L279.20 611.40" fill="none" stroke="#54b374" stroke-width="1.05" stroke-linejoin="round" stroke-linecap="round"/>
<path d="M249.70 659.50 L250.19 658.92 L250.68 658.17 L251.17 657.23 L251.67 656.06 L252.16 654.60 L252.65 652.84 L253.14 650.73 L253.63 648.27 L254.12 645.48 L254.62 642.41 L255.11 639.13 L255.60 635.75 L256.09 632.40 L256.58 629.19 L257.07 626.23 L257.57 623.57 L258.06 621.25 L258.55 619.28 L259.04 617.65 L259.53 616.31 L260.02 615.24 L260.52 614.38 L261.01 613.71 L261.50 613.18 L261.99 612.77 L262.48 612.45 L262.97 612.21 L263.47 612.02 L263.96 611.87 L264.45 611.76 L264.94 611.68 L265.43 611.61 L265.93 611.56 L266.42 611.52 L266.91 611.49 L267.40 611.47 L267.89 611.45 L268.38 611.44 L268.88 611.43 L269.37 611.42 L269.86 611.42 L270.35 611.41 L270.84 611.41 L271.33 611.41 L271.82 611.41 L272.32 611.40 L272.81 611.40 L273.30 611.40 L273.79 611.40 L274.28 611.40 L274.77 611.40 L275.27 611.40 L275.76 611.40 L276.25 611.40 L276.74 611.40 L277.23 611.40 L277.72 611.40 L278.22 611.40 L278.71 611.40 L279.20 611.40" fill="none" stroke="#551a5e" stroke-width="1.2" stroke-linejoin="round" stroke-linecap="round"/>
<path d="M302.10 659.50 L302.81 659.50 L303.52 659.50 L304.22 659.50 L304.93 659.50 L305.64 659.50 L306.35 659.50 L307.05 659.46 L307.76 659.42 L308.47 659.37 L309.18 659.31 L309.88 659.25 L310.59 659.18 L311.30 659.10 L312.00 659.01 L312.71 658.92 L313.42 658.81 L314.13 658.70 L314.83 658.59 L315.54 658.47 L316.25 658.34 L316.96 658.21 L317.67 658.08 L318.37 657.94 L319.08 657.80 L319.79 657.66 L320.50 657.51 L321.20 657.37 L321.91 657.22 L322.62 657.07 L323.32 656.92 L324.03 656.77 L324.74 656.62 L325.45 656.47 L326.15 656.32 L326.86 656.16 L327.57 656.01 L328.28 655.86 L328.98 655.71 L329.69 655.55 L330.40 655.40" fill="none" stroke="#6d6e71" stroke-width="1.05" stroke-linejoin="round" stroke-linecap="round"/>
<path d="M302.10 659.50 L302.81 659.50 L303.52 659.50 L304.22 659.50 L304.93 659.19 L305.64 658.74 L306.35 658.23 L307.05 657.65 L307.76 656.99 L308.47 656.26 L309.18 655.45 L309.88 654.56 L310.59 653.59 L311.30 652.55 L312.00 651.43 L312.71 650.25 L313.42 649.00 L314.13 647.69 L314.83 646.34 L315.54 644.93 L316.25 643.49 L316.96 642.01 L317.67 640.50 L318.37 638.97 L319.08 637.41 L319.79 635.84 L320.50 634.25 L321.20 632.64 L321.91 631.02 L322.62 629.40 L323.32 627.77 L324.03 626.12 L324.74 624.48 L325.45 622.83 L326.15 621.17 L326.86 619.52 L327.57 617.86 L328.28 616.20 L328.98 614.53 L329.69 612.87 L330.40 611.20" fill="none" stroke="#54b374" stroke-width="1.05" stroke-linejoin="round" stroke-linecap="round"/>
<path d="M302.10 659.50 L302.81 659.50 L303.52 659.50 L304.22 659.50 L304.93 659.22 L305.64 658.82 L306.35 658.36 L307.05 657.84 L307.76 657.26 L308.47 656.61 L309.18 655.88 L309.88 655.08 L310.59 654.22 L311.30 653.28 L312.00 652.28 L312.71 651.22 L313.42 650.11 L314.13 648.94 L314.83 647.73 L315.54 646.47 L316.25 645.18 L316.96 643.86 L317.67 642.51 L318.37 641.14 L319.08 639.75 L319.79 638.34 L320.50 636.91 L321.20 635.48 L321.91 634.03 L322.62 632.58 L323.32 631.12 L324.03 629.65 L324.74 628.18 L325.45 626.70 L326.15 625.22 L326.86 623.74 L327.57 622.25 L328.28 620.77 L328.98 619.28 L329.69 617.79 L330.40 616.30" fill="none" stroke="#551a5e" stroke-width="1.2" stroke-linejoin="round" stroke-linecap="round"/>
<path d="M353.80 659.50 L354.53 659.50 L355.26 659.50 L355.99 659.50 L356.72 659.42 L357.45 659.29 L358.18 659.13 L358.91 658.93 L359.64 658.70 L360.37 658.44 L361.10 658.17 L361.83 657.88 L362.56 657.58 L363.29 657.27 L364.02 656.96 L364.75 656.64 L365.48 656.32 L366.21 656.00 L366.94 655.68 L367.67 655.36 L368.40 655.04 L369.13 654.72 L369.86 654.40 L370.59 654.07 L371.32 653.75 L372.05 653.43 L372.78 653.11 L373.51 652.79 L374.24 652.46 L374.97 652.14 L375.70 651.82 L376.43 651.50 L377.16 651.18 L377.89 650.85 L378.62 650.53 L379.35 650.21 L380.08 649.89 L380.81 649.57 L381.54 649.24 L382.27 648.92 L383.00 648.60" fill="none" stroke="#6d6e71" stroke-width="1.05" stroke-linejoin="round" stroke-linecap="round"/>
<path d="M353.80 659.50 L354.53 659.50 L355.26 659.50 L355.99 659.32 L356.72 658.92 L357.45 658.40 L358.18 657.75 L358.91 656.97 L359.64 656.06 L360.37 655.05 L361.10 653.97 L361.83 652.82 L362.56 651.63 L363.29 650.41 L364.02 649.17 L364.75 647.92 L365.48 646.66 L366.21 645.39 L366.94 644.12 L367.67 642.85 L368.40 641.57 L369.13 640.29 L369.86 639.02 L370.59 637.74 L371.32 636.46 L372.05 635.18 L372.78 633.90 L373.51 632.62 L374.24 631.35 L374.97 630.07 L375.70 628.79 L376.43 627.51 L377.16 626.23 L377.89 624.95 L378.62 623.67 L379.35 622.39 L380.08 621.12 L380.81 619.84 L381.54 618.56 L382.27 617.28 L383.00 616.00" fill="none" stroke="#54b374" stroke-width="1.05" stroke-linejoin="round" stroke-linecap="round"/>
<path d="M353.80 659.50 L354.53 659.50 L355.26 659.50 L355.99 659.44 L356.72 659.04 L357.45 658.52 L358.18 657.85 L358.91 657.02 L359.64 656.06 L360.37 654.97 L361.10 653.78 L361.83 652.51 L362.56 651.20 L363.29 649.84 L364.02 648.47 L364.75 647.07 L365.48 645.66 L366.21 644.25 L366.94 642.83 L367.67 641.40 L368.40 639.98 L369.13 638.55 L369.86 637.12 L370.59 635.70 L371.32 634.27 L372.05 632.84 L372.78 631.41 L373.51 629.98 L374.24 628.55 L374.97 627.12 L375.70 625.69 L376.43 624.26 L377.16 622.83 L377.89 621.40 L378.62 619.98 L379.35 618.55 L380.08 617.12 L380.81 615.69 L381.54 614.26 L382.27 612.83 L383.00 611.40" fill="none" stroke="#551a5e" stroke-width="1.2" stroke-linejoin="round" stroke-linecap="round"/>
<path d="M406.00 659.30 L406.74 659.30 L407.47 659.30 L408.20 659.30 L408.94 659.30 L409.68 659.30 L410.41 659.30 L411.14 659.28 L411.88 659.25 L412.62 659.21 L413.35 659.18 L414.08 659.14 L414.82 659.09 L415.56 659.04 L416.29 658.98 L417.02 658.92 L417.76 658.85 L418.50 658.78 L419.23 658.70 L419.96 658.62 L420.70 658.54 L421.44 658.45 L422.17 658.36 L422.90 658.27 L423.64 658.18 L424.38 658.09 L425.11 657.99 L425.84 657.89 L426.58 657.80 L427.31 657.70 L428.05 657.60 L428.78 657.50 L429.52 657.40 L430.25 657.30 L430.99 657.20 L431.72 657.10 L432.46 657.00 L433.19 656.90 L433.93 656.80 L434.66 656.70 L435.40 656.60" fill="none" stroke="#6d6e71" stroke-width="1.05" stroke-linejoin="round" stroke-linecap="round"/>
<path d="M406.30 659.30 L407.03 658.91 L407.75 658.39 L408.48 657.72 L409.21 656.92 L409.94 655.98 L410.67 654.94 L411.39 653.81 L412.12 652.63 L412.85 651.41 L413.57 650.16 L414.30 648.89 L415.03 647.61 L415.76 646.32 L416.49 645.03 L417.21 643.73 L417.94 642.44 L418.67 641.14 L419.39 639.84 L420.12 638.54 L420.85 637.23 L421.58 635.93 L422.31 634.63 L423.03 633.33 L423.76 632.03 L424.49 630.73 L425.21 629.42 L425.94 628.12 L426.67 626.82 L427.40 625.52 L428.12 624.22 L428.85 622.92 L429.58 621.61 L430.31 620.31 L431.03 619.01 L431.76 617.71 L432.49 616.41 L433.22 615.11 L433.94 613.80 L434.67 612.50 L435.40 611.20" fill="none" stroke="#54b374" stroke-width="1.05" stroke-linejoin="round" stroke-linecap="round"/>
<path d="M406.30 659.30 L407.03 659.03 L407.75 658.66 L408.48 658.20 L409.21 657.63 L409.94 656.96 L410.67 656.19 L411.39 655.34 L412.12 654.43 L412.85 653.47 L413.57 652.48 L414.30 651.46 L415.03 650.42 L415.76 649.37 L416.49 648.31 L417.21 647.25 L417.94 646.18 L418.67 645.11 L419.39 644.04 L420.12 642.97 L420.85 641.90 L421.58 640.82 L422.31 639.75 L423.03 638.67 L423.76 637.60 L424.49 636.52 L425.21 635.45 L425.94 634.37 L426.67 633.30 L427.40 632.22 L428.12 631.15 L428.85 630.07 L429.58 629.00 L430.31 627.92 L431.03 626.85 L431.76 625.77 L432.49 624.70 L433.22 623.62 L433.94 622.55 L434.67 621.47 L435.40 620.40" fill="none" stroke="#551a5e" stroke-width="1.2" stroke-linejoin="round" stroke-linecap="round"/>
<path d="M457.90 659.50 L458.63 659.50 L459.37 659.50 L460.10 659.50 L460.84 659.50 L461.57 659.38 L462.31 659.24 L463.04 659.08 L463.78 658.90 L464.51 658.69 L465.25 658.46 L465.99 658.21 L466.72 657.93 L467.45 657.63 L468.19 657.31 L468.93 656.96 L469.66 656.59 L470.39 656.20 L471.13 655.80 L471.87 655.38 L472.60 654.95 L473.33 654.51 L474.07 654.06 L474.81 653.59 L475.54 653.13 L476.27 652.65 L477.01 652.17 L477.75 651.69 L478.48 651.20 L479.21 650.71 L479.95 650.21 L480.69 649.72 L481.42 649.22 L482.16 648.72 L482.89 648.22 L483.62 647.72 L484.36 647.21 L485.10 646.71 L485.83 646.21 L486.56 645.70 L487.30 645.20" fill="none" stroke="#6d6e71" stroke-width="1.05" stroke-linejoin="round" stroke-linecap="round"/>
<path d="M457.20 659.50 L457.94 659.50 L458.67 659.50 L459.40 659.27 L460.14 658.85 L460.88 658.36 L461.61 657.81 L462.34 657.19 L463.08 656.49 L463.81 655.72 L464.55 654.87 L465.29 653.95 L466.02 652.95 L466.75 651.89 L467.49 650.75 L468.23 649.55 L468.96 648.29 L469.69 646.98 L470.43 645.63 L471.17 644.23 L471.90 642.80 L472.63 641.33 L473.37 639.84 L474.11 638.32 L474.84 636.79 L475.57 635.23 L476.31 633.66 L477.05 632.08 L477.78 630.49 L478.51 628.89 L479.25 627.28 L479.99 625.67 L480.72 624.05 L481.46 622.43 L482.19 620.80 L482.93 619.17 L483.66 617.54 L484.40 615.91 L485.13 614.27 L485.87 612.64 L486.60 611.00" fill="none" stroke="#54b374" stroke-width="1.2" stroke-linejoin="round" stroke-linecap="round"/>
<path d="M457.90 659.50 L458.63 659.50 L459.37 659.50 L460.10 659.50 L460.84 659.19 L461.57 658.75 L462.31 658.25 L463.04 657.68 L463.78 657.03 L464.51 656.31 L465.25 655.51 L465.99 654.63 L466.72 653.68 L467.45 652.65 L468.19 651.55 L468.93 650.38 L469.66 649.15 L470.39 647.87 L471.13 646.53 L471.87 645.15 L472.60 643.72 L473.33 642.27 L474.07 640.78 L474.81 639.27 L475.54 637.73 L476.27 636.18 L477.01 634.61 L477.75 633.03 L478.48 631.44 L479.21 629.84 L479.95 628.23 L480.69 626.61 L481.42 624.99 L482.16 623.36 L482.89 621.73 L483.62 620.10 L484.36 618.46 L485.10 616.82 L485.83 615.18 L486.56 613.54 L487.30 611.90" fill="none" stroke="#551a5e" stroke-width="1.2" stroke-linejoin="round" stroke-linecap="round"/>
</svg>
</body></html>
